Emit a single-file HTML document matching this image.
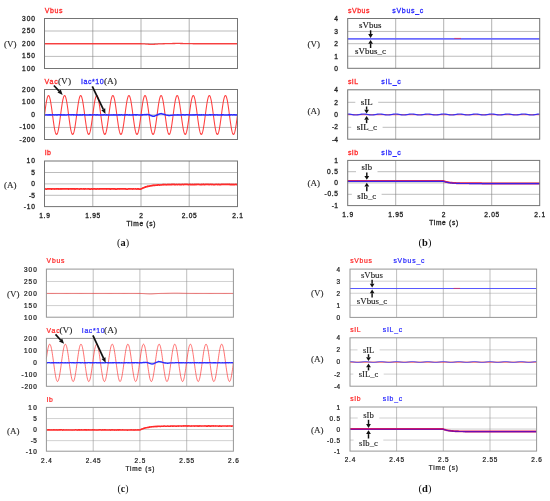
<!DOCTYPE html>
<html><head><meta charset="utf-8"><title>Figure</title>
<style>
html,body{margin:0;padding:0;background:#fff;}
svg{display:block;}
.ss{font-family:'Liberation Sans', Arial, sans-serif;}
.sf{font-family:'Liberation Serif', 'Times New Roman', serif;}
</style></head><body>
<svg width="550" height="501" viewBox="0 0 550 501">
<rect width="550" height="501" fill="#fff"/>
<rect x="44.5" y="18.5" width="193.0" height="50.0" fill="#fff" stroke="none"/>
<line x1="44.5" x2="237.5" y1="31.00" y2="31.00" stroke="#8e8e8e" stroke-width="0.6"/>
<line x1="44.5" x2="237.5" y1="43.50" y2="43.50" stroke="#8e8e8e" stroke-width="0.6"/>
<line x1="44.5" x2="237.5" y1="56.40" y2="56.40" stroke="#8e8e8e" stroke-width="0.6"/>
<line x1="92.8" x2="92.8" y1="18.5" y2="68.5" stroke="#7c7c7c" stroke-width="0.6"/>
<line x1="141.0" x2="141.0" y1="18.5" y2="68.5" stroke="#7c7c7c" stroke-width="0.6"/>
<line x1="189.2" x2="189.2" y1="18.5" y2="68.5" stroke="#7c7c7c" stroke-width="0.6"/>
<path d="M44.50 43.75 L45.46 43.75 L46.43 43.75 L47.39 43.75 L48.36 43.75 L49.32 43.75 L50.29 43.75 L51.25 43.75 L52.22 43.75 L53.18 43.75 L54.15 43.75 L55.11 43.75 L56.08 43.75 L57.04 43.75 L58.01 43.75 L58.97 43.75 L59.94 43.75 L60.90 43.75 L61.87 43.75 L62.83 43.75 L63.80 43.75 L64.76 43.75 L65.73 43.75 L66.69 43.75 L67.66 43.75 L68.62 43.75 L69.59 43.75 L70.55 43.75 L71.52 43.75 L72.48 43.75 L73.45 43.75 L74.41 43.75 L75.38 43.75 L76.34 43.75 L77.31 43.75 L78.27 43.75 L79.24 43.75 L80.20 43.75 L81.17 43.75 L82.13 43.75 L83.10 43.75 L84.06 43.75 L85.03 43.75 L85.99 43.75 L86.96 43.75 L87.92 43.75 L88.89 43.75 L89.85 43.75 L90.82 43.75 L91.78 43.75 L92.75 43.75 L93.71 43.75 L94.68 43.75 L95.64 43.75 L96.61 43.75 L97.57 43.75 L98.54 43.75 L99.50 43.75 L100.47 43.75 L101.43 43.75 L102.40 43.75 L103.36 43.75 L104.33 43.75 L105.29 43.75 L106.26 43.75 L107.22 43.75 L108.19 43.75 L109.15 43.75 L110.12 43.75 L111.08 43.75 L112.05 43.75 L113.01 43.75 L113.98 43.75 L114.94 43.75 L115.91 43.75 L116.87 43.75 L117.84 43.75 L118.80 43.75 L119.77 43.75 L120.73 43.75 L121.70 43.75 L122.66 43.75 L123.63 43.75 L124.59 43.75 L125.56 43.75 L126.52 43.75 L127.49 43.75 L128.45 43.75 L129.42 43.75 L130.38 43.75 L131.35 43.75 L132.31 43.75 L133.28 43.75 L134.24 43.75 L135.21 43.75 L136.17 43.75 L137.14 43.75 L138.10 43.75 L139.07 43.75 L140.03 43.75 L141.00 43.75 L141.96 43.83 L142.93 43.86 L143.90 43.91 L144.86 43.97 L145.82 44.04 L146.79 44.11 L147.76 44.18 L148.72 44.25 L149.69 44.30 L150.65 44.34 L151.62 44.35 L152.58 44.34 L153.54 44.30 L154.51 44.25 L155.48 44.18 L156.44 44.11 L157.40 44.03 L158.37 43.97 L159.34 43.90 L160.30 43.85 L161.26 43.81 L162.23 43.78 L163.20 43.75 L164.16 43.73 L165.12 43.71 L166.09 43.69 L167.06 43.66 L168.02 43.64 L168.99 43.62 L169.95 43.59 L170.91 43.57 L171.88 43.54 L172.84 43.52 L173.81 43.49 L174.78 43.48 L175.74 43.46 L176.71 43.45 L177.67 43.45 L178.63 43.45 L179.60 43.46 L180.57 43.48 L181.53 43.49 L182.50 43.52 L183.46 43.54 L184.43 43.57 L185.39 43.59 L186.35 43.62 L187.32 43.64 L188.29 43.66 L189.25 43.68 L190.22 43.69 L191.18 43.71 L192.15 43.72 L193.11 43.73 L194.07 43.73 L195.04 43.74 L196.01 43.74 L196.97 43.74 L197.93 43.75 L198.90 43.75 L199.87 43.75 L200.83 43.75 L201.79 43.75 L202.76 43.75 L203.73 43.75 L204.69 43.75 L205.65 43.75 L206.62 43.75 L207.59 43.75 L208.55 43.75 L209.51 43.75 L210.48 43.75 L211.45 43.75 L212.41 43.75 L213.37 43.75 L214.34 43.75 L215.31 43.75 L216.27 43.75 L217.23 43.75 L218.20 43.75 L219.17 43.75 L220.13 43.75 L221.09 43.75 L222.06 43.75 L223.03 43.75 L223.99 43.75 L224.95 43.75 L225.92 43.75 L226.89 43.75 L227.85 43.75 L228.81 43.75 L229.78 43.75 L230.75 43.75 L231.71 43.75 L232.67 43.75 L233.64 43.75 L234.61 43.75 L235.57 43.75 L236.53 43.75 L237.50 43.75" fill="none" stroke="#ff2a2a" stroke-width="1.3" stroke-opacity="0.85" stroke-linejoin="round"/>
<rect x="44.5" y="18.5" width="193.0" height="50.0" fill="none" stroke="#747474" stroke-width="1"/>
<text class="ss" x="34.9" y="20.9" font-size="6.6" fill="#222" text-anchor="end" textLength="12.8" lengthAdjust="spacing" stroke="#222" stroke-width="0.3">300</text>
<text class="ss" x="34.9" y="33.4" font-size="6.6" fill="#222" text-anchor="end" textLength="12.8" lengthAdjust="spacing" stroke="#222" stroke-width="0.3">250</text>
<text class="ss" x="34.9" y="45.9" font-size="6.6" fill="#222" text-anchor="end" textLength="12.8" lengthAdjust="spacing" stroke="#222" stroke-width="0.3">200</text>
<text class="ss" x="34.9" y="58.4" font-size="6.6" fill="#222" text-anchor="end" textLength="12.8" lengthAdjust="spacing" stroke="#222" stroke-width="0.3">150</text>
<text class="ss" x="34.9" y="70.9" font-size="6.6" fill="#222" text-anchor="end" textLength="12.8" lengthAdjust="spacing" stroke="#222" stroke-width="0.3">100</text>
<text class="ss" x="44.7" y="12.6" font-size="7.0" fill="#ff2a2a" textLength="17.8" lengthAdjust="spacing" stroke="#ff2a2a" stroke-width="0.3">Vbus</text>
<text class="sf" x="3.9" y="46.6" font-size="9.0" fill="#222" textLength="12.5" lengthAdjust="spacingAndGlyphs" stroke="#222" stroke-width="0.12">(V)</text>
<rect x="44.5" y="89.5" width="193.0" height="50.0" fill="#fff" stroke="none"/>
<line x1="44.5" x2="237.5" y1="102.45" y2="102.45" stroke="#8e8e8e" stroke-width="0.6"/>
<line x1="44.5" x2="237.5" y1="114.90" y2="114.90" stroke="#8e8e8e" stroke-width="0.6"/>
<line x1="44.5" x2="237.5" y1="127.45" y2="127.45" stroke="#8e8e8e" stroke-width="0.6"/>
<line x1="92.8" x2="92.8" y1="89.5" y2="139.5" stroke="#7c7c7c" stroke-width="0.6"/>
<line x1="141.0" x2="141.0" y1="89.5" y2="139.5" stroke="#7c7c7c" stroke-width="0.6"/>
<line x1="189.2" x2="189.2" y1="89.5" y2="139.5" stroke="#7c7c7c" stroke-width="0.6"/>
<path d="M44.50 115.00 L44.82 112.56 L45.14 110.15 L45.46 107.82 L45.79 105.61 L46.11 103.54 L46.43 101.65 L46.75 99.97 L47.07 98.54 L47.39 97.36 L47.72 96.45 L48.04 95.85 L48.36 95.54 L48.68 95.54 L49.00 95.85 L49.32 96.45 L49.65 97.36 L49.97 98.54 L50.29 99.97 L50.61 101.65 L50.93 103.54 L51.25 105.61 L51.58 107.82 L51.90 110.15 L52.22 112.56 L52.54 115.00 L52.86 117.44 L53.18 119.85 L53.51 122.18 L53.83 124.39 L54.15 126.46 L54.47 128.35 L54.79 130.03 L55.11 131.46 L55.44 132.64 L55.76 133.55 L56.08 134.15 L56.40 134.46 L56.72 134.46 L57.04 134.15 L57.37 133.55 L57.69 132.64 L58.01 131.46 L58.33 130.03 L58.65 128.35 L58.97 126.46 L59.30 124.39 L59.62 122.18 L59.94 119.85 L60.26 117.44 L60.58 115.00 L60.90 112.56 L61.23 110.15 L61.55 107.82 L61.87 105.61 L62.19 103.54 L62.51 101.65 L62.83 99.97 L63.16 98.54 L63.48 97.36 L63.80 96.45 L64.12 95.85 L64.44 95.54 L64.76 95.54 L65.09 95.85 L65.41 96.45 L65.73 97.36 L66.05 98.54 L66.37 99.97 L66.69 101.65 L67.02 103.54 L67.34 105.61 L67.66 107.82 L67.98 110.15 L68.30 112.56 L68.62 115.00 L68.95 117.44 L69.27 119.85 L69.59 122.18 L69.91 124.39 L70.23 126.46 L70.55 128.35 L70.88 130.03 L71.20 131.46 L71.52 132.64 L71.84 133.55 L72.16 134.15 L72.48 134.46 L72.81 134.46 L73.13 134.15 L73.45 133.55 L73.77 132.64 L74.09 131.46 L74.41 130.03 L74.74 128.35 L75.06 126.46 L75.38 124.39 L75.70 122.18 L76.02 119.85 L76.34 117.44 L76.67 115.00 L76.99 112.56 L77.31 110.15 L77.63 107.82 L77.95 105.61 L78.27 103.54 L78.60 101.65 L78.92 99.97 L79.24 98.54 L79.56 97.36 L79.88 96.45 L80.20 95.85 L80.53 95.54 L80.85 95.54 L81.17 95.85 L81.49 96.45 L81.81 97.36 L82.13 98.54 L82.46 99.97 L82.78 101.65 L83.10 103.54 L83.42 105.61 L83.74 107.82 L84.06 110.15 L84.39 112.56 L84.71 115.00 L85.03 117.44 L85.35 119.85 L85.67 122.18 L85.99 124.39 L86.32 126.46 L86.64 128.35 L86.96 130.03 L87.28 131.46 L87.60 132.64 L87.92 133.55 L88.25 134.15 L88.57 134.46 L88.89 134.46 L89.21 134.15 L89.53 133.55 L89.85 132.64 L90.18 131.46 L90.50 130.03 L90.82 128.35 L91.14 126.46 L91.46 124.39 L91.78 122.18 L92.11 119.85 L92.43 117.44 L92.75 115.00 L93.07 112.56 L93.39 110.15 L93.71 107.82 L94.04 105.61 L94.36 103.54 L94.68 101.65 L95.00 99.97 L95.32 98.54 L95.64 97.36 L95.97 96.45 L96.29 95.85 L96.61 95.54 L96.93 95.54 L97.25 95.85 L97.57 96.45 L97.90 97.36 L98.22 98.54 L98.54 99.97 L98.86 101.65 L99.18 103.54 L99.50 105.61 L99.83 107.82 L100.15 110.15 L100.47 112.56 L100.79 115.00 L101.11 117.44 L101.43 119.85 L101.76 122.18 L102.08 124.39 L102.40 126.46 L102.72 128.35 L103.04 130.03 L103.36 131.46 L103.69 132.64 L104.01 133.55 L104.33 134.15 L104.65 134.46 L104.97 134.46 L105.29 134.15 L105.62 133.55 L105.94 132.64 L106.26 131.46 L106.58 130.03 L106.90 128.35 L107.22 126.46 L107.55 124.39 L107.87 122.18 L108.19 119.85 L108.51 117.44 L108.83 115.00 L109.15 112.56 L109.48 110.15 L109.80 107.82 L110.12 105.61 L110.44 103.54 L110.76 101.65 L111.08 99.97 L111.41 98.54 L111.73 97.36 L112.05 96.45 L112.37 95.85 L112.69 95.54 L113.01 95.54 L113.34 95.85 L113.66 96.45 L113.98 97.36 L114.30 98.54 L114.62 99.97 L114.94 101.65 L115.27 103.54 L115.59 105.61 L115.91 107.82 L116.23 110.15 L116.55 112.56 L116.87 115.00 L117.20 117.44 L117.52 119.85 L117.84 122.18 L118.16 124.39 L118.48 126.46 L118.80 128.35 L119.13 130.03 L119.45 131.46 L119.77 132.64 L120.09 133.55 L120.41 134.15 L120.73 134.46 L121.06 134.46 L121.38 134.15 L121.70 133.55 L122.02 132.64 L122.34 131.46 L122.66 130.03 L122.99 128.35 L123.31 126.46 L123.63 124.39 L123.95 122.18 L124.27 119.85 L124.59 117.44 L124.92 115.00 L125.24 112.56 L125.56 110.15 L125.88 107.82 L126.20 105.61 L126.52 103.54 L126.85 101.65 L127.17 99.97 L127.49 98.54 L127.81 97.36 L128.13 96.45 L128.45 95.85 L128.78 95.54 L129.10 95.54 L129.42 95.85 L129.74 96.45 L130.06 97.36 L130.38 98.54 L130.71 99.97 L131.03 101.65 L131.35 103.54 L131.67 105.61 L131.99 107.82 L132.31 110.15 L132.64 112.56 L132.96 115.00 L133.28 117.44 L133.60 119.85 L133.92 122.18 L134.24 124.39 L134.57 126.46 L134.89 128.35 L135.21 130.03 L135.53 131.46 L135.85 132.64 L136.17 133.55 L136.50 134.15 L136.82 134.46 L137.14 134.46 L137.46 134.15 L137.78 133.55 L138.10 132.64 L138.43 131.46 L138.75 130.03 L139.07 128.35 L139.39 126.46 L139.71 124.39 L140.03 122.18 L140.36 119.85 L140.68 117.44 L141.00 115.00 L141.32 112.56 L141.64 110.15 L141.96 107.82 L142.29 105.61 L142.61 103.54 L142.93 101.65 L143.25 99.97 L143.57 98.54 L143.90 97.36 L144.22 96.45 L144.54 95.85 L144.86 95.54 L145.18 95.54 L145.50 95.85 L145.82 96.45 L146.15 97.36 L146.47 98.54 L146.79 99.97 L147.11 101.65 L147.43 103.54 L147.76 105.61 L148.08 107.82 L148.40 110.15 L148.72 112.56 L149.04 115.00 L149.36 117.44 L149.69 119.85 L150.01 122.18 L150.33 124.39 L150.65 126.46 L150.97 128.35 L151.29 130.03 L151.62 131.46 L151.94 132.64 L152.26 133.55 L152.58 134.15 L152.90 134.46 L153.22 134.46 L153.54 134.15 L153.87 133.55 L154.19 132.64 L154.51 131.46 L154.83 130.03 L155.15 128.35 L155.48 126.46 L155.80 124.39 L156.12 122.18 L156.44 119.85 L156.76 117.44 L157.08 115.00 L157.40 112.56 L157.73 110.15 L158.05 107.82 L158.37 105.61 L158.69 103.54 L159.01 101.65 L159.34 99.97 L159.66 98.54 L159.98 97.36 L160.30 96.45 L160.62 95.85 L160.94 95.54 L161.26 95.54 L161.59 95.85 L161.91 96.45 L162.23 97.36 L162.55 98.54 L162.87 99.97 L163.19 101.65 L163.52 103.54 L163.84 105.61 L164.16 107.82 L164.48 110.15 L164.80 112.56 L165.12 115.00 L165.45 117.44 L165.77 119.85 L166.09 122.18 L166.41 124.39 L166.73 126.46 L167.06 128.35 L167.38 130.03 L167.70 131.46 L168.02 132.64 L168.34 133.55 L168.66 134.15 L168.99 134.46 L169.31 134.46 L169.63 134.15 L169.95 133.55 L170.27 132.64 L170.59 131.46 L170.91 130.03 L171.24 128.35 L171.56 126.46 L171.88 124.39 L172.20 122.18 L172.52 119.85 L172.84 117.44 L173.17 115.00 L173.49 112.56 L173.81 110.15 L174.13 107.82 L174.45 105.61 L174.78 103.54 L175.10 101.65 L175.42 99.97 L175.74 98.54 L176.06 97.36 L176.38 96.45 L176.71 95.85 L177.03 95.54 L177.35 95.54 L177.67 95.85 L177.99 96.45 L178.31 97.36 L178.63 98.54 L178.96 99.97 L179.28 101.65 L179.60 103.54 L179.92 105.61 L180.24 107.82 L180.57 110.15 L180.89 112.56 L181.21 115.00 L181.53 117.44 L181.85 119.85 L182.17 122.18 L182.50 124.39 L182.82 126.46 L183.14 128.35 L183.46 130.03 L183.78 131.46 L184.10 132.64 L184.43 133.55 L184.75 134.15 L185.07 134.46 L185.39 134.46 L185.71 134.15 L186.03 133.55 L186.35 132.64 L186.68 131.46 L187.00 130.03 L187.32 128.35 L187.64 126.46 L187.96 124.39 L188.29 122.18 L188.61 119.85 L188.93 117.44 L189.25 115.00 L189.57 112.56 L189.89 110.15 L190.22 107.82 L190.54 105.61 L190.86 103.54 L191.18 101.65 L191.50 99.97 L191.82 98.54 L192.15 97.36 L192.47 96.45 L192.79 95.85 L193.11 95.54 L193.43 95.54 L193.75 95.85 L194.07 96.45 L194.40 97.36 L194.72 98.54 L195.04 99.97 L195.36 101.65 L195.68 103.54 L196.01 105.61 L196.33 107.82 L196.65 110.15 L196.97 112.56 L197.29 115.00 L197.61 117.44 L197.93 119.85 L198.26 122.18 L198.58 124.39 L198.90 126.46 L199.22 128.35 L199.54 130.03 L199.87 131.46 L200.19 132.64 L200.51 133.55 L200.83 134.15 L201.15 134.46 L201.47 134.46 L201.79 134.15 L202.12 133.55 L202.44 132.64 L202.76 131.46 L203.08 130.03 L203.40 128.35 L203.73 126.46 L204.05 124.39 L204.37 122.18 L204.69 119.85 L205.01 117.44 L205.33 115.00 L205.65 112.56 L205.98 110.15 L206.30 107.82 L206.62 105.61 L206.94 103.54 L207.26 101.65 L207.59 99.97 L207.91 98.54 L208.23 97.36 L208.55 96.45 L208.87 95.85 L209.19 95.54 L209.51 95.54 L209.84 95.85 L210.16 96.45 L210.48 97.36 L210.80 98.54 L211.12 99.97 L211.45 101.65 L211.77 103.54 L212.09 105.61 L212.41 107.82 L212.73 110.15 L213.05 112.56 L213.37 115.00 L213.70 117.44 L214.02 119.85 L214.34 122.18 L214.66 124.39 L214.98 126.46 L215.31 128.35 L215.63 130.03 L215.95 131.46 L216.27 132.64 L216.59 133.55 L216.91 134.15 L217.23 134.46 L217.56 134.46 L217.88 134.15 L218.20 133.55 L218.52 132.64 L218.84 131.46 L219.17 130.03 L219.49 128.35 L219.81 126.46 L220.13 124.39 L220.45 122.18 L220.77 119.85 L221.09 117.44 L221.42 115.00 L221.74 112.56 L222.06 110.15 L222.38 107.82 L222.70 105.61 L223.03 103.54 L223.35 101.65 L223.67 99.97 L223.99 98.54 L224.31 97.36 L224.63 96.45 L224.95 95.85 L225.28 95.54 L225.60 95.54 L225.92 95.85 L226.24 96.45 L226.56 97.36 L226.89 98.54 L227.21 99.97 L227.53 101.65 L227.85 103.54 L228.17 105.61 L228.49 107.82 L228.81 110.15 L229.14 112.56 L229.46 115.00 L229.78 117.44 L230.10 119.85 L230.42 122.18 L230.75 124.39 L231.07 126.46 L231.39 128.35 L231.71 130.03 L232.03 131.46 L232.35 132.64 L232.67 133.55 L233.00 134.15 L233.32 134.46 L233.64 134.46 L233.96 134.15 L234.28 133.55 L234.61 132.64 L234.93 131.46 L235.25 130.03 L235.57 128.35 L235.89 126.46 L236.21 124.39 L236.53 122.18 L236.86 119.85 L237.18 117.44 L237.50 115.00" fill="none" stroke="#ff2a2a" stroke-width="1.05" stroke-opacity="0.9" stroke-linejoin="round"/>
<path d="M44.50 114.98 L44.98 114.89 L45.46 114.94 L45.95 114.87 L46.43 114.86 L46.91 115.03 L47.39 115.05 L47.88 114.80 L48.36 114.97 L48.84 114.98 L49.32 114.75 L49.81 114.91 L50.29 114.80 L50.77 114.91 L51.25 114.86 L51.74 115.00 L52.22 114.86 L52.70 114.79 L53.18 114.89 L53.67 114.83 L54.15 114.85 L54.63 115.03 L55.11 114.82 L55.60 114.87 L56.08 114.96 L56.56 115.04 L57.04 114.79 L57.53 114.91 L58.01 114.83 L58.49 114.79 L58.97 114.84 L59.46 114.77 L59.94 114.93 L60.42 114.81 L60.90 114.92 L61.39 114.77 L61.87 114.79 L62.35 115.02 L62.83 115.01 L63.32 114.98 L63.80 114.76 L64.28 114.92 L64.76 114.86 L65.25 114.96 L65.73 114.90 L66.21 114.93 L66.69 114.94 L67.18 114.87 L67.66 114.87 L68.14 114.78 L68.62 114.85 L69.11 114.77 L69.59 114.79 L70.07 114.75 L70.55 114.85 L71.04 115.00 L71.52 114.79 L72.00 114.76 L72.48 114.78 L72.97 114.88 L73.45 114.84 L73.93 114.99 L74.41 114.80 L74.90 114.88 L75.38 114.96 L75.86 115.03 L76.34 114.79 L76.83 114.75 L77.31 115.02 L77.79 114.81 L78.27 114.93 L78.76 115.00 L79.24 114.96 L79.72 114.82 L80.20 114.79 L80.69 115.04 L81.17 114.87 L81.65 115.04 L82.13 114.83 L82.62 114.95 L83.10 114.79 L83.58 114.76 L84.06 114.90 L84.55 114.75 L85.03 114.96 L85.51 115.03 L85.99 114.87 L86.48 115.04 L86.96 114.99 L87.44 114.93 L87.92 114.87 L88.41 115.00 L88.89 115.04 L89.37 114.79 L89.85 114.96 L90.34 114.76 L90.82 114.78 L91.30 114.94 L91.78 114.91 L92.27 114.89 L92.75 114.86 L93.23 114.87 L93.71 114.88 L94.20 114.86 L94.68 114.77 L95.16 114.90 L95.64 114.92 L96.13 114.83 L96.61 114.98 L97.09 114.96 L97.57 114.76 L98.06 114.89 L98.54 114.89 L99.02 115.05 L99.50 114.93 L99.99 114.88 L100.47 115.04 L100.95 114.87 L101.43 114.86 L101.92 115.03 L102.40 114.86 L102.88 114.91 L103.36 114.85 L103.85 114.94 L104.33 114.84 L104.81 114.83 L105.29 115.04 L105.78 115.03 L106.26 114.85 L106.74 114.76 L107.22 114.97 L107.71 114.91 L108.19 114.87 L108.67 114.95 L109.15 114.94 L109.64 114.96 L110.12 114.94 L110.60 114.87 L111.08 114.96 L111.57 114.94 L112.05 114.82 L112.53 115.04 L113.01 114.88 L113.50 114.83 L113.98 114.96 L114.46 114.98 L114.94 114.81 L115.43 114.98 L115.91 114.99 L116.39 114.92 L116.87 114.84 L117.36 115.02 L117.84 114.95 L118.32 114.95 L118.80 114.80 L119.29 114.92 L119.77 114.79 L120.25 115.00 L120.73 114.95 L121.22 114.85 L121.70 114.78 L122.18 114.91 L122.66 114.98 L123.15 115.01 L123.63 114.89 L124.11 114.99 L124.59 114.81 L125.08 114.80 L125.56 114.99 L126.04 114.97 L126.52 114.81 L127.01 114.86 L127.49 114.81 L127.97 114.95 L128.45 115.01 L128.94 114.96 L129.42 114.81 L129.90 114.97 L130.38 114.95 L130.87 114.92 L131.35 114.92 L131.83 114.93 L132.31 114.77 L132.80 115.00 L133.28 115.05 L133.76 114.77 L134.24 114.79 L134.73 114.75 L135.21 114.92 L135.69 114.76 L136.17 114.77 L136.66 114.98 L137.14 114.83 L137.62 114.80 L138.10 114.85 L138.59 114.89 L139.07 114.96 L139.55 114.95 L140.03 114.98 L140.52 115.03 L141.00 114.87 L141.48 114.96 L141.96 114.79 L142.45 115.01 L142.93 114.74 L143.41 114.78 L143.90 114.68 L144.38 114.64 L144.86 114.59 L145.34 114.64 L145.82 114.76 L146.31 114.50 L146.79 114.65 L147.27 114.61 L147.76 114.53 L148.24 114.64 L148.72 114.77 L149.20 114.74 L149.69 114.99 L150.17 115.25 L150.65 115.48 L151.13 115.51 L151.62 115.83 L152.10 115.93 L152.58 116.20 L153.06 116.33 L153.54 116.25 L154.03 116.12 L154.51 116.20 L154.99 115.84 L155.48 115.60 L155.96 115.41 L156.44 115.17 L156.92 115.18 L157.40 114.77 L157.89 114.48 L158.37 114.51 L158.85 114.24 L159.34 114.06 L159.82 113.83 L160.30 113.75 L160.78 113.67 L161.26 113.58 L161.75 113.86 L162.23 113.94 L162.71 114.05 L163.20 114.21 L163.68 114.39 L164.16 114.28 L164.64 114.48 L165.12 114.85 L165.61 114.85 L166.09 115.02 L166.57 115.12 L167.06 115.20 L167.54 115.19 L168.02 115.28 L168.50 115.40 L168.99 115.48 L169.47 115.45 L169.95 115.50 L170.43 115.34 L170.91 115.25 L171.40 115.30 L171.88 115.33 L172.36 115.24 L172.84 115.12 L173.33 115.00 L173.81 114.91 L174.29 115.00 L174.78 114.85 L175.26 114.89 L175.74 114.94 L176.22 114.95 L176.71 114.91 L177.19 114.84 L177.67 114.93 L178.15 114.84 L178.63 114.91 L179.12 114.98 L179.60 114.89 L180.08 114.84 L180.57 115.03 L181.05 114.92 L181.53 114.92 L182.01 114.79 L182.50 114.77 L182.98 114.94 L183.46 114.78 L183.94 114.81 L184.43 114.97 L184.91 114.91 L185.39 115.01 L185.87 114.81 L186.35 114.85 L186.84 114.78 L187.32 114.81 L187.80 114.85 L188.29 114.83 L188.77 114.88 L189.25 115.02 L189.73 114.87 L190.22 115.05 L190.70 115.01 L191.18 114.82 L191.66 115.04 L192.15 115.02 L192.63 115.02 L193.11 114.79 L193.59 115.00 L194.07 115.04 L194.56 114.80 L195.04 115.01 L195.52 114.80 L196.01 114.85 L196.49 114.80 L196.97 114.76 L197.45 114.88 L197.93 114.81 L198.42 115.04 L198.90 114.82 L199.38 114.90 L199.87 114.84 L200.35 115.02 L200.83 114.83 L201.31 114.77 L201.79 115.03 L202.28 114.95 L202.76 114.88 L203.24 114.80 L203.73 114.98 L204.21 115.00 L204.69 114.98 L205.17 114.87 L205.65 114.82 L206.14 114.93 L206.62 114.94 L207.10 114.93 L207.59 114.94 L208.07 114.92 L208.55 115.03 L209.03 114.90 L209.51 114.76 L210.00 114.93 L210.48 114.83 L210.96 115.00 L211.45 114.84 L211.93 114.82 L212.41 114.85 L212.89 114.89 L213.37 114.90 L213.86 114.86 L214.34 114.78 L214.82 115.01 L215.31 115.02 L215.79 114.83 L216.27 114.78 L216.75 114.89 L217.23 114.92 L217.72 114.83 L218.20 114.99 L218.68 114.97 L219.17 114.99 L219.65 114.87 L220.13 114.96 L220.61 114.98 L221.09 114.84 L221.58 114.76 L222.06 114.96 L222.54 114.84 L223.03 114.93 L223.51 114.79 L223.99 114.87 L224.47 114.97 L224.95 114.98 L225.44 115.04 L225.92 114.91 L226.40 114.94 L226.89 115.00 L227.37 114.94 L227.85 114.95 L228.33 114.82 L228.81 115.01 L229.30 114.75 L229.78 114.91 L230.26 114.87 L230.75 114.91 L231.23 114.80 L231.71 114.80 L232.19 114.88 L232.67 114.91 L233.16 114.83 L233.64 114.79 L234.12 114.93 L234.61 114.83 L235.09 114.76 L235.57 114.91 L236.05 114.98 L236.53 114.98 L237.02 114.83 L237.50 114.85" fill="none" stroke="#2b2bff" stroke-width="1.5" stroke-linejoin="round"/>
<rect x="44.5" y="89.5" width="193.0" height="50.0" fill="none" stroke="#747474" stroke-width="1"/>
<text class="ss" x="34.9" y="91.9" font-size="6.6" fill="#222" text-anchor="end" textLength="12.8" lengthAdjust="spacing" stroke="#222" stroke-width="0.3">200</text>
<text class="ss" x="34.9" y="104.4" font-size="6.6" fill="#222" text-anchor="end" textLength="12.8" lengthAdjust="spacing" stroke="#222" stroke-width="0.3">100</text>
<text class="ss" x="34.9" y="116.9" font-size="6.6" fill="#222" text-anchor="end" textLength="4.2" lengthAdjust="spacing" stroke="#222" stroke-width="0.3">0</text>
<text class="ss" x="34.9" y="129.4" font-size="6.6" fill="#222" text-anchor="end" textLength="15.3" lengthAdjust="spacing" stroke="#222" stroke-width="0.3">-100</text>
<text class="ss" x="34.9" y="141.9" font-size="6.6" fill="#222" text-anchor="end" textLength="15.3" lengthAdjust="spacing" stroke="#222" stroke-width="0.3">-200</text>
<text class="ss" x="44.5" y="83.8" font-size="7.0" fill="#ff2a2a" textLength="13.3" lengthAdjust="spacing" stroke="#ff2a2a" stroke-width="0.3">Vac</text>
<text class="sf" x="58.0" y="84.3" font-size="9.0" fill="#222" textLength="13" lengthAdjust="spacingAndGlyphs" stroke="#222" stroke-width="0.12">(V)</text>
<text class="ss" x="80.9" y="83.8" font-size="7.0" fill="#2b2bff" textLength="22.8" lengthAdjust="spacing" stroke="#2b2bff" stroke-width="0.3">Iac*10</text>
<text class="sf" x="103.9" y="84.3" font-size="9.0" fill="#222" textLength="13" lengthAdjust="spacingAndGlyphs" stroke="#222" stroke-width="0.12">(A)</text>
<line x1="53.9" y1="85.5" x2="59.1" y2="91.1" stroke="#111" stroke-width="1.7"/>
<polygon points="62.7,94.9 57.5,92.6 60.8,89.6" fill="#111"/>
<line x1="92.3" y1="86.4" x2="103.2" y2="109.2" stroke="#111" stroke-width="1.7"/>
<polygon points="105.5,113.9 101.3,110.2 105.2,108.3" fill="#111"/>
<rect x="44.5" y="161.0" width="193.0" height="45.6" fill="#fff" stroke="none"/>
<line x1="44.5" x2="237.5" y1="172.50" y2="172.50" stroke="#8e8e8e" stroke-width="0.6"/>
<line x1="44.5" x2="237.5" y1="183.90" y2="183.90" stroke="#8e8e8e" stroke-width="0.6"/>
<line x1="44.5" x2="237.5" y1="195.30" y2="195.30" stroke="#8e8e8e" stroke-width="0.6"/>
<line x1="92.8" x2="92.8" y1="161.0" y2="206.6" stroke="#7c7c7c" stroke-width="0.6"/>
<line x1="141.0" x2="141.0" y1="161.0" y2="206.6" stroke="#7c7c7c" stroke-width="0.6"/>
<line x1="189.2" x2="189.2" y1="161.0" y2="206.6" stroke="#7c7c7c" stroke-width="0.6"/>
<path d="M44.50 188.76 L44.98 188.80 L45.46 189.02 L45.95 189.04 L46.43 189.02 L46.91 189.04 L47.39 188.86 L47.88 188.80 L48.36 188.78 L48.84 189.02 L49.32 188.80 L49.81 189.00 L50.29 188.96 L50.77 188.85 L51.25 189.08 L51.74 189.08 L52.22 188.81 L52.70 189.01 L53.18 188.98 L53.67 188.90 L54.15 188.87 L54.63 189.11 L55.11 188.99 L55.60 188.95 L56.08 188.94 L56.56 189.04 L57.04 188.90 L57.53 188.76 L58.01 188.97 L58.49 188.91 L58.97 189.07 L59.46 189.01 L59.94 188.87 L60.42 189.07 L60.90 188.79 L61.39 188.78 L61.87 189.08 L62.35 188.77 L62.83 188.98 L63.32 188.83 L63.80 188.84 L64.28 189.00 L64.76 188.87 L65.25 188.87 L65.73 188.82 L66.21 189.02 L66.69 188.84 L67.18 188.76 L67.66 188.87 L68.14 188.92 L68.62 189.07 L69.11 188.93 L69.59 188.98 L70.07 188.85 L70.55 188.86 L71.04 188.91 L71.52 189.05 L72.00 188.88 L72.48 188.88 L72.97 189.05 L73.45 188.79 L73.93 188.87 L74.41 189.07 L74.90 188.77 L75.38 189.06 L75.86 188.99 L76.34 188.85 L76.83 188.89 L77.31 188.91 L77.79 188.88 L78.27 188.95 L78.76 189.00 L79.24 189.05 L79.72 189.09 L80.20 188.85 L80.69 188.84 L81.17 188.91 L81.65 188.84 L82.13 188.98 L82.62 189.02 L83.10 188.97 L83.58 188.79 L84.06 189.10 L84.55 188.93 L85.03 189.02 L85.51 188.83 L85.99 188.98 L86.48 188.99 L86.96 188.97 L87.44 188.91 L87.92 188.83 L88.41 188.98 L88.89 188.80 L89.37 189.07 L89.85 189.01 L90.34 189.08 L90.82 189.07 L91.30 188.83 L91.78 188.85 L92.27 189.04 L92.75 189.04 L93.23 188.96 L93.71 188.84 L94.20 188.81 L94.68 188.84 L95.16 188.90 L95.64 189.06 L96.13 188.97 L96.61 189.04 L97.09 188.92 L97.57 188.91 L98.06 189.04 L98.54 189.02 L99.02 188.83 L99.50 189.10 L99.99 188.82 L100.47 188.79 L100.95 188.77 L101.43 188.97 L101.92 188.91 L102.40 188.90 L102.88 188.88 L103.36 188.76 L103.85 188.86 L104.33 189.00 L104.81 188.80 L105.29 188.94 L105.78 188.89 L106.26 188.85 L106.74 189.11 L107.22 188.83 L107.71 188.87 L108.19 188.93 L108.67 188.92 L109.15 188.94 L109.64 189.04 L110.12 188.92 L110.60 189.10 L111.08 188.93 L111.57 188.88 L112.05 188.95 L112.53 188.91 L113.01 188.76 L113.50 188.79 L113.98 189.06 L114.46 188.82 L114.94 188.89 L115.43 189.09 L115.91 188.98 L116.39 189.03 L116.87 189.08 L117.36 188.92 L117.84 188.77 L118.32 188.99 L118.80 188.79 L119.29 188.86 L119.77 189.06 L120.25 188.80 L120.73 188.89 L121.22 188.77 L121.70 188.85 L122.18 188.84 L122.66 188.99 L123.15 188.82 L123.63 188.77 L124.11 188.80 L124.59 188.95 L125.08 188.84 L125.56 188.94 L126.04 189.07 L126.52 189.10 L127.01 189.08 L127.49 189.04 L127.97 189.05 L128.45 188.93 L128.94 188.86 L129.42 188.92 L129.90 188.96 L130.38 188.88 L130.87 189.00 L131.35 188.94 L131.83 188.84 L132.31 188.97 L132.80 189.05 L133.28 188.78 L133.76 188.85 L134.24 188.98 L134.73 188.98 L135.21 188.92 L135.69 188.89 L136.17 189.03 L136.66 189.11 L137.14 189.04 L137.62 188.83 L138.10 189.06 L138.59 188.94 L139.07 189.04 L139.55 189.04 L140.03 189.05 L140.52 188.97 L141.00 189.05 L141.48 188.83 L141.96 188.55 L142.45 188.29 L142.93 187.95 L143.41 187.90 L143.90 187.71 L144.38 187.37 L144.86 187.21 L145.34 186.94 L145.82 187.03 L146.31 186.75 L146.79 186.62 L147.27 186.63 L147.76 186.17 L148.24 186.33 L148.72 186.27 L149.20 186.03 L149.69 186.05 L150.17 185.80 L150.65 185.81 L151.13 185.82 L151.62 185.77 L152.10 185.46 L152.58 185.56 L153.06 185.31 L153.54 185.37 L154.03 185.15 L154.51 185.33 L154.99 185.30 L155.48 185.25 L155.96 185.01 L156.44 185.04 L156.92 185.11 L157.40 185.16 L157.89 184.92 L158.37 184.78 L158.85 184.89 L159.34 185.08 L159.82 185.04 L160.30 185.00 L160.78 184.95 L161.26 184.98 L161.75 184.95 L162.23 184.71 L162.71 184.60 L163.20 184.84 L163.68 184.55 L164.16 184.71 L164.64 184.58 L165.12 184.53 L165.61 184.51 L166.09 184.83 L166.57 184.72 L167.06 184.60 L167.54 184.46 L168.02 184.77 L168.50 184.69 L168.99 184.47 L169.47 184.74 L169.95 184.63 L170.43 184.64 L170.91 184.51 L171.40 184.41 L171.88 184.68 L172.36 184.47 L172.84 184.47 L173.33 184.43 L173.81 184.53 L174.29 184.39 L174.78 184.59 L175.26 184.57 L175.74 184.63 L176.22 184.43 L176.71 184.53 L177.19 184.61 L177.67 184.64 L178.15 184.44 L178.63 184.48 L179.12 184.44 L179.60 184.56 L180.08 184.52 L180.57 184.64 L181.05 184.43 L181.53 184.68 L182.01 184.52 L182.50 184.41 L182.98 184.44 L183.46 184.65 L183.94 184.60 L184.43 184.37 L184.91 184.45 L185.39 184.36 L185.87 184.36 L186.35 184.51 L186.84 184.35 L187.32 184.41 L187.80 184.56 L188.29 184.54 L188.77 184.65 L189.25 184.53 L189.73 184.33 L190.22 184.64 L190.70 184.47 L191.18 184.63 L191.66 184.64 L192.15 184.44 L192.63 184.58 L193.11 184.65 L193.59 184.62 L194.07 184.44 L194.56 184.46 L195.04 184.67 L195.52 184.59 L196.01 184.32 L196.49 184.59 L196.97 184.46 L197.45 184.52 L197.93 184.38 L198.42 184.45 L198.90 184.38 L199.38 184.47 L199.87 184.60 L200.35 184.60 L200.83 184.64 L201.31 184.37 L201.79 184.63 L202.28 184.66 L202.76 184.32 L203.24 184.60 L203.73 184.34 L204.21 184.64 L204.69 184.50 L205.17 184.59 L205.65 184.36 L206.14 184.44 L206.62 184.43 L207.10 184.39 L207.59 184.35 L208.07 184.54 L208.55 184.45 L209.03 184.50 L209.51 184.63 L210.00 184.36 L210.48 184.45 L210.96 184.37 L211.45 184.59 L211.93 184.47 L212.41 184.50 L212.89 184.40 L213.37 184.64 L213.86 184.54 L214.34 184.49 L214.82 184.64 L215.31 184.47 L215.79 184.40 L216.27 184.51 L216.75 184.43 L217.23 184.45 L217.72 184.59 L218.20 184.54 L218.68 184.30 L219.17 184.54 L219.65 184.51 L220.13 184.64 L220.61 184.59 L221.09 184.61 L221.58 184.33 L222.06 184.40 L222.54 184.35 L223.03 184.31 L223.51 184.44 L223.99 184.33 L224.47 184.47 L224.95 184.51 L225.44 184.32 L225.92 184.34 L226.40 184.32 L226.89 184.49 L227.37 184.38 L227.85 184.52 L228.33 184.30 L228.81 184.33 L229.30 184.56 L229.78 184.33 L230.26 184.60 L230.75 184.63 L231.23 184.40 L231.71 184.56 L232.19 184.48 L232.67 184.43 L233.16 184.65 L233.64 184.39 L234.12 184.57 L234.61 184.51 L235.09 184.54 L235.57 184.40 L236.05 184.39 L236.53 184.56 L237.02 184.63 L237.50 184.56" fill="none" stroke="#ff2a2a" stroke-width="1.7" stroke-linejoin="round"/>
<rect x="44.5" y="161.0" width="193.0" height="45.6" fill="none" stroke="#747474" stroke-width="1"/>
<text class="ss" x="34.9" y="163.4" font-size="6.6" fill="#222" text-anchor="end" textLength="8.5" lengthAdjust="spacing" stroke="#222" stroke-width="0.3">10</text>
<text class="ss" x="34.9" y="174.8" font-size="6.6" fill="#222" text-anchor="end" textLength="4.2" lengthAdjust="spacing" stroke="#222" stroke-width="0.3">5</text>
<text class="ss" x="34.9" y="186.2" font-size="6.6" fill="#222" text-anchor="end" textLength="4.2" lengthAdjust="spacing" stroke="#222" stroke-width="0.3">0</text>
<text class="ss" x="34.9" y="197.6" font-size="6.6" fill="#222" text-anchor="end" textLength="6.0" lengthAdjust="spacing" stroke="#222" stroke-width="0.3">-5</text>
<text class="ss" x="34.9" y="209.0" font-size="6.6" fill="#222" text-anchor="end" textLength="11.1" lengthAdjust="spacing" stroke="#222" stroke-width="0.3">-10</text>
<text class="ss" x="44.7" y="155.1" font-size="7.0" fill="#ff2a2a" textLength="6.3" lengthAdjust="spacing" stroke="#ff2a2a" stroke-width="0.3">Ib</text>
<text class="sf" x="3.9" y="187.8" font-size="9.0" fill="#222" textLength="12.5" lengthAdjust="spacingAndGlyphs" stroke="#222" stroke-width="0.12">(A)</text>
<text class="ss" x="44.5" y="217.5" font-size="6.6" fill="#222" text-anchor="middle" textLength="10.7" lengthAdjust="spacing" stroke="#222" stroke-width="0.3">1.9</text>
<text class="ss" x="92.8" y="217.5" font-size="6.6" fill="#222" text-anchor="middle" textLength="14.9" lengthAdjust="spacing" stroke="#222" stroke-width="0.3">1.95</text>
<text class="ss" x="141.0" y="217.5" font-size="6.6" fill="#222" text-anchor="middle" textLength="4.2" lengthAdjust="spacing" stroke="#222" stroke-width="0.3">2</text>
<text class="ss" x="189.2" y="217.5" font-size="6.6" fill="#222" text-anchor="middle" textLength="14.9" lengthAdjust="spacing" stroke="#222" stroke-width="0.3">2.05</text>
<text class="ss" x="237.5" y="217.5" font-size="6.6" fill="#222" text-anchor="middle" textLength="10.7" lengthAdjust="spacing" stroke="#222" stroke-width="0.3">2.1</text>
<text class="ss" x="141.0" y="225.6" font-size="6.6" fill="#222" text-anchor="middle" textLength="29" lengthAdjust="spacing" stroke="#222" stroke-width="0.3">Time (s)</text>
<text class="sf" x="123.1" y="245.7" font-size="9.6" fill="#111" text-anchor="middle" textLength="12" lengthAdjust="spacingAndGlyphs">(<tspan font-weight="bold">a</tspan>)</text>
<rect x="347.7" y="18.5" width="192.0" height="49.8" fill="#fff" stroke="none"/>
<line x1="347.7" x2="539.7" y1="31.45" y2="31.45" stroke="#8e8e8e" stroke-width="0.6"/>
<line x1="347.7" x2="539.7" y1="43.70" y2="43.70" stroke="#8e8e8e" stroke-width="0.6"/>
<line x1="347.7" x2="539.7" y1="56.25" y2="56.25" stroke="#8e8e8e" stroke-width="0.6"/>
<line x1="395.7" x2="395.7" y1="18.5" y2="68.3" stroke="#7c7c7c" stroke-width="0.6"/>
<line x1="443.7" x2="443.7" y1="18.5" y2="68.3" stroke="#7c7c7c" stroke-width="0.6"/>
<line x1="491.7" x2="491.7" y1="18.5" y2="68.3" stroke="#7c7c7c" stroke-width="0.6"/>
<path d="M347.70 38.87 L539.70 38.87" fill="none" stroke="#6c6cff" stroke-width="1.9" stroke-linejoin="round"/>
<path d="M454.26 38.42 L460.98 38.42" fill="none" stroke="#ff2a2a" stroke-width="0.8" stroke-opacity="0.8" stroke-linejoin="round"/>
<rect x="347.7" y="18.5" width="192.0" height="49.8" fill="none" stroke="#747474" stroke-width="1"/>
<text class="ss" x="337.9" y="21.4" font-size="6.6" fill="#222" text-anchor="end" textLength="4.2" lengthAdjust="spacing" stroke="#222" stroke-width="0.3">4</text>
<text class="ss" x="337.9" y="33.8" font-size="6.6" fill="#222" text-anchor="end" textLength="4.2" lengthAdjust="spacing" stroke="#222" stroke-width="0.3">3</text>
<text class="ss" x="337.9" y="46.2" font-size="6.6" fill="#222" text-anchor="end" textLength="4.2" lengthAdjust="spacing" stroke="#222" stroke-width="0.3">2</text>
<text class="ss" x="337.9" y="58.7" font-size="6.6" fill="#222" text-anchor="end" textLength="4.2" lengthAdjust="spacing" stroke="#222" stroke-width="0.3">1</text>
<text class="ss" x="337.9" y="71.1" font-size="6.6" fill="#222" text-anchor="end" textLength="4.2" lengthAdjust="spacing" stroke="#222" stroke-width="0.3">0</text>
<text class="ss" x="347.9" y="12.6" font-size="7.0" fill="#ff2a2a" textLength="21.6" lengthAdjust="spacing" stroke="#ff2a2a" stroke-width="0.3">sVbus</text>
<text class="ss" x="392.3" y="12.6" font-size="7.0" fill="#2b2bff" textLength="31" lengthAdjust="spacing" stroke="#2b2bff" stroke-width="0.3">sVbus_c</text>
<text class="sf" x="307.5" y="46.5" font-size="9.0" fill="#222" textLength="12.5" lengthAdjust="spacingAndGlyphs" stroke="#222" stroke-width="0.12">(V)</text>
<text class="sf" x="358.9" y="28.0" font-size="9.1" fill="#111" textLength="22.5" lengthAdjust="spacingAndGlyphs" stroke="#111" stroke-width="0.12">sVbus</text>
<text class="sf" x="355.0" y="53.5" font-size="9.1" fill="#111" textLength="30.9" lengthAdjust="spacingAndGlyphs" stroke="#111" stroke-width="0.12">sVbus_c</text>
<line x1="370.6" y1="30.3" x2="370.6" y2="34.1" stroke="#111" stroke-width="1.45"/>
<polygon points="370.6,37.9 368.2,34.1 373.0,34.1" fill="#111"/>
<line x1="370.6" y1="48.0" x2="370.6" y2="43.8" stroke="#111" stroke-width="1.45"/>
<polygon points="370.6,40.0 373.0,43.8 368.2,43.8" fill="#111"/>
<rect x="347.7" y="89.8" width="192.0" height="49.4" fill="#fff" stroke="none"/>
<line x1="347.7" x2="539.7" y1="102.30" y2="102.30" stroke="#8e8e8e" stroke-width="0.6"/>
<line x1="347.7" x2="539.7" y1="114.50" y2="114.50" stroke="#8e8e8e" stroke-width="0.6"/>
<line x1="347.7" x2="539.7" y1="127.30" y2="127.30" stroke="#8e8e8e" stroke-width="0.6"/>
<line x1="395.7" x2="395.7" y1="89.8" y2="139.2" stroke="#7c7c7c" stroke-width="0.6"/>
<line x1="443.7" x2="443.7" y1="89.8" y2="139.2" stroke="#7c7c7c" stroke-width="0.6"/>
<line x1="491.7" x2="491.7" y1="89.8" y2="139.2" stroke="#7c7c7c" stroke-width="0.6"/>
<path d="M347.70 114.69 L348.10 114.69 L348.50 114.69 L348.90 114.69 L349.30 114.69 L349.70 114.69 L350.10 114.69 L350.50 114.69 L350.90 114.69 L351.30 114.69 L351.70 114.69 L352.10 114.69 L352.50 114.69 L352.90 114.69 L353.30 114.69 L353.70 114.69 L354.10 114.69 L354.50 114.69 L354.90 114.69 L355.30 114.69 L355.70 114.69 L356.10 114.69 L356.50 114.69 L356.90 114.69 L357.30 114.69 L357.70 114.69 L358.10 114.69 L358.50 114.69 L358.90 114.69 L359.30 114.69 L359.70 114.69 L360.10 114.69 L360.50 114.69 L360.90 114.69 L361.30 114.69 L361.70 114.69 L362.10 114.69 L362.50 114.69 L362.90 114.69 L363.30 114.69 L363.70 114.69 L364.10 114.69 L364.50 114.69 L364.90 114.69 L365.30 114.69 L365.70 114.69 L366.10 114.69 L366.50 114.69 L366.90 114.69 L367.30 114.69 L367.70 114.69 L368.10 114.69 L368.50 114.69 L368.90 114.69 L369.30 114.69 L369.70 114.69 L370.10 114.69 L370.50 114.69 L370.90 114.69 L371.30 114.69 L371.70 114.69 L372.10 114.69 L372.50 114.69 L372.90 114.69 L373.30 114.69 L373.70 114.69 L374.10 114.69 L374.50 114.69 L374.90 114.69 L375.30 114.69 L375.70 114.69 L376.10 114.69 L376.50 114.69 L376.90 114.69 L377.30 114.69 L377.70 114.69 L378.10 114.69 L378.50 114.69 L378.90 114.69 L379.30 114.69 L379.70 114.69 L380.10 114.69 L380.50 114.69 L380.90 114.69 L381.30 114.69 L381.70 114.69 L382.10 114.69 L382.50 114.69 L382.90 114.69 L383.30 114.69 L383.70 114.69 L384.10 114.69 L384.50 114.69 L384.90 114.69 L385.30 114.69 L385.70 114.69 L386.10 114.69 L386.50 114.69 L386.90 114.69 L387.30 114.69 L387.70 114.69 L388.10 114.69 L388.50 114.69 L388.90 114.69 L389.30 114.69 L389.70 114.69 L390.10 114.69 L390.50 114.69 L390.90 114.69 L391.30 114.69 L391.70 114.69 L392.10 114.69 L392.50 114.69 L392.90 114.69 L393.30 114.69 L393.70 114.69 L394.10 114.69 L394.50 114.69 L394.90 114.69 L395.30 114.69 L395.70 114.69 L396.10 114.69 L396.50 114.69 L396.90 114.69 L397.30 114.69 L397.70 114.69 L398.10 114.69 L398.50 114.69 L398.90 114.69 L399.30 114.69 L399.70 114.69 L400.10 114.69 L400.50 114.69 L400.90 114.69 L401.30 114.69 L401.70 114.69 L402.10 114.69 L402.50 114.69 L402.90 114.69 L403.30 114.69 L403.70 114.69 L404.10 114.69 L404.50 114.69 L404.90 114.69 L405.30 114.69 L405.70 114.69 L406.10 114.69 L406.50 114.69 L406.90 114.69 L407.30 114.69 L407.70 114.69 L408.10 114.69 L408.50 114.69 L408.90 114.69 L409.30 114.69 L409.70 114.69 L410.10 114.69 L410.50 114.69 L410.90 114.69 L411.30 114.69 L411.70 114.69 L412.10 114.69 L412.50 114.69 L412.90 114.69 L413.30 114.69 L413.70 114.69 L414.10 114.69 L414.50 114.69 L414.90 114.69 L415.30 114.69 L415.70 114.69 L416.10 114.69 L416.50 114.69 L416.90 114.69 L417.30 114.69 L417.70 114.69 L418.10 114.69 L418.50 114.69 L418.90 114.69 L419.30 114.69 L419.70 114.69 L420.10 114.69 L420.50 114.69 L420.90 114.69 L421.30 114.69 L421.70 114.69 L422.10 114.69 L422.50 114.69 L422.90 114.69 L423.30 114.69 L423.70 114.69 L424.10 114.69 L424.50 114.69 L424.90 114.69 L425.30 114.69 L425.70 114.69 L426.10 114.69 L426.50 114.69 L426.90 114.69 L427.30 114.69 L427.70 114.69 L428.10 114.69 L428.50 114.69 L428.90 114.69 L429.30 114.69 L429.70 114.69 L430.10 114.69 L430.50 114.69 L430.90 114.69 L431.30 114.69 L431.70 114.69 L432.10 114.69 L432.50 114.69 L432.90 114.69 L433.30 114.69 L433.70 114.69 L434.10 114.69 L434.50 114.69 L434.90 114.69 L435.30 114.69 L435.70 114.69 L436.10 114.69 L436.50 114.69 L436.90 114.69 L437.30 114.69 L437.70 114.69 L438.10 114.69 L438.50 114.69 L438.90 114.69 L439.30 114.69 L439.70 114.69 L440.10 114.69 L440.50 114.69 L440.90 114.69 L441.30 114.69 L441.70 114.69 L442.10 114.69 L442.50 114.69 L442.90 114.69 L443.30 114.69 L443.70 114.69 L444.10 114.69 L444.50 114.69 L444.90 114.69 L445.30 114.69 L445.70 114.69 L446.10 114.69 L446.50 114.69 L446.90 114.69 L447.30 114.69 L447.70 114.69 L448.10 114.69 L448.50 114.69 L448.90 114.69 L449.30 114.69 L449.70 114.69 L450.10 114.69 L450.50 114.69 L450.90 114.69 L451.30 114.69 L451.70 114.69 L452.10 114.69 L452.50 114.69 L452.90 114.69 L453.30 114.69 L453.70 114.69 L454.10 114.69 L454.50 114.69 L454.90 114.69 L455.30 114.69 L455.70 114.69 L456.10 114.69 L456.50 114.69 L456.90 114.69 L457.30 114.69 L457.70 114.69 L458.10 114.69 L458.50 114.69 L458.90 114.69 L459.30 114.69 L459.70 114.69 L460.10 114.69 L460.50 114.69 L460.90 114.69 L461.30 114.69 L461.70 114.69 L462.10 114.69 L462.50 114.69 L462.90 114.69 L463.30 114.69 L463.70 114.69 L464.10 114.69 L464.50 114.69 L464.90 114.69 L465.30 114.69 L465.70 114.69 L466.10 114.69 L466.50 114.69 L466.90 114.69 L467.30 114.69 L467.70 114.69 L468.10 114.69 L468.50 114.69 L468.90 114.69 L469.30 114.69 L469.70 114.69 L470.10 114.69 L470.50 114.69 L470.90 114.69 L471.30 114.69 L471.70 114.69 L472.10 114.69 L472.50 114.69 L472.90 114.69 L473.30 114.69 L473.70 114.69 L474.10 114.69 L474.50 114.69 L474.90 114.69 L475.30 114.69 L475.70 114.69 L476.10 114.69 L476.50 114.69 L476.90 114.69 L477.30 114.69 L477.70 114.69 L478.10 114.69 L478.50 114.69 L478.90 114.69 L479.30 114.69 L479.70 114.69 L480.10 114.69 L480.50 114.69 L480.90 114.69 L481.30 114.69 L481.70 114.69 L482.10 114.69 L482.50 114.69 L482.90 114.69 L483.30 114.69 L483.70 114.69 L484.10 114.69 L484.50 114.69 L484.90 114.69 L485.30 114.69 L485.70 114.69 L486.10 114.69 L486.50 114.69 L486.90 114.69 L487.30 114.69 L487.70 114.69 L488.10 114.69 L488.50 114.69 L488.90 114.69 L489.30 114.69 L489.70 114.69 L490.10 114.69 L490.50 114.69 L490.90 114.69 L491.30 114.69 L491.70 114.69 L492.10 114.69 L492.50 114.69 L492.90 114.69 L493.30 114.69 L493.70 114.69 L494.10 114.69 L494.50 114.69 L494.90 114.69 L495.30 114.69 L495.70 114.69 L496.10 114.69 L496.50 114.69 L496.90 114.69 L497.30 114.69 L497.70 114.69 L498.10 114.69 L498.50 114.69 L498.90 114.69 L499.30 114.69 L499.70 114.69 L500.10 114.69 L500.50 114.69 L500.90 114.69 L501.30 114.69 L501.70 114.69 L502.10 114.69 L502.50 114.69 L502.90 114.69 L503.30 114.69 L503.70 114.69 L504.10 114.69 L504.50 114.69 L504.90 114.69 L505.30 114.69 L505.70 114.69 L506.10 114.69 L506.50 114.69 L506.90 114.69 L507.30 114.69 L507.70 114.69 L508.10 114.69 L508.50 114.69 L508.90 114.69 L509.30 114.69 L509.70 114.69 L510.10 114.69 L510.50 114.69 L510.90 114.69 L511.30 114.69 L511.70 114.69 L512.10 114.69 L512.50 114.69 L512.90 114.69 L513.30 114.69 L513.70 114.69 L514.10 114.69 L514.50 114.69 L514.90 114.69 L515.30 114.69 L515.70 114.69 L516.10 114.69 L516.50 114.69 L516.90 114.69 L517.30 114.69 L517.70 114.69 L518.10 114.69 L518.50 114.69 L518.90 114.69 L519.30 114.69 L519.70 114.69 L520.10 114.69 L520.50 114.69 L520.90 114.69 L521.30 114.69 L521.70 114.69 L522.10 114.69 L522.50 114.69 L522.90 114.69 L523.30 114.69 L523.70 114.69 L524.10 114.69 L524.50 114.69 L524.90 114.69 L525.30 114.69 L525.70 114.69 L526.10 114.69 L526.50 114.69 L526.90 114.69 L527.30 114.69 L527.70 114.69 L528.10 114.69 L528.50 114.69 L528.90 114.69 L529.30 114.69 L529.70 114.69 L530.10 114.69 L530.50 114.69 L530.90 114.69 L531.30 114.69 L531.70 114.69 L532.10 114.69 L532.50 114.69 L532.90 114.69 L533.30 114.69 L533.70 114.69 L534.10 114.69 L534.50 114.69 L534.90 114.69 L535.30 114.69 L535.70 114.69 L536.10 114.69 L536.50 114.69 L536.90 114.69 L537.30 114.69 L537.70 114.69 L538.10 114.69 L538.50 114.69 L538.90 114.69 L539.30 114.69 L539.70 114.69" fill="none" stroke="#ff2a2a" stroke-width="1.0" stroke-opacity="0.85" stroke-linejoin="round"/>
<path d="M347.70 113.98 L348.10 113.98 L348.50 114.00 L348.90 114.03 L349.30 114.08 L349.70 114.13 L350.10 114.19 L350.50 114.26 L350.90 114.34 L351.30 114.42 L351.70 114.50 L352.10 114.58 L352.50 114.66 L352.90 114.74 L353.30 114.81 L353.70 114.87 L354.10 114.92 L354.50 114.97 L354.90 115.00 L355.30 115.02 L355.70 115.02 L356.10 115.02 L356.50 115.00 L356.90 114.97 L357.30 114.92 L357.70 114.87 L358.10 114.81 L358.50 114.74 L358.90 114.66 L359.30 114.58 L359.70 114.50 L360.10 114.42 L360.50 114.34 L360.90 114.26 L361.30 114.19 L361.70 114.13 L362.10 114.08 L362.50 114.03 L362.90 114.00 L363.30 113.98 L363.70 113.98 L364.10 113.98 L364.50 114.00 L364.90 114.03 L365.30 114.08 L365.70 114.13 L366.10 114.19 L366.50 114.26 L366.90 114.34 L367.30 114.42 L367.70 114.50 L368.10 114.58 L368.50 114.66 L368.90 114.74 L369.30 114.81 L369.70 114.87 L370.10 114.92 L370.50 114.97 L370.90 115.00 L371.30 115.02 L371.70 115.02 L372.10 115.02 L372.50 115.00 L372.90 114.97 L373.30 114.92 L373.70 114.87 L374.10 114.81 L374.50 114.74 L374.90 114.66 L375.30 114.58 L375.70 114.50 L376.10 114.42 L376.50 114.34 L376.90 114.26 L377.30 114.19 L377.70 114.13 L378.10 114.08 L378.50 114.03 L378.90 114.00 L379.30 113.98 L379.70 113.98 L380.10 113.98 L380.50 114.00 L380.90 114.03 L381.30 114.08 L381.70 114.13 L382.10 114.19 L382.50 114.26 L382.90 114.34 L383.30 114.42 L383.70 114.50 L384.10 114.58 L384.50 114.66 L384.90 114.74 L385.30 114.81 L385.70 114.87 L386.10 114.92 L386.50 114.97 L386.90 115.00 L387.30 115.02 L387.70 115.02 L388.10 115.02 L388.50 115.00 L388.90 114.97 L389.30 114.92 L389.70 114.87 L390.10 114.81 L390.50 114.74 L390.90 114.66 L391.30 114.58 L391.70 114.50 L392.10 114.42 L392.50 114.34 L392.90 114.26 L393.30 114.19 L393.70 114.13 L394.10 114.08 L394.50 114.03 L394.90 114.00 L395.30 113.98 L395.70 113.98 L396.10 113.98 L396.50 114.00 L396.90 114.03 L397.30 114.08 L397.70 114.13 L398.10 114.19 L398.50 114.26 L398.90 114.34 L399.30 114.42 L399.70 114.50 L400.10 114.58 L400.50 114.66 L400.90 114.74 L401.30 114.81 L401.70 114.87 L402.10 114.92 L402.50 114.97 L402.90 115.00 L403.30 115.02 L403.70 115.02 L404.10 115.02 L404.50 115.00 L404.90 114.97 L405.30 114.92 L405.70 114.87 L406.10 114.81 L406.50 114.74 L406.90 114.66 L407.30 114.58 L407.70 114.50 L408.10 114.42 L408.50 114.34 L408.90 114.26 L409.30 114.19 L409.70 114.13 L410.10 114.08 L410.50 114.03 L410.90 114.00 L411.30 113.98 L411.70 113.98 L412.10 113.98 L412.50 114.00 L412.90 114.03 L413.30 114.08 L413.70 114.13 L414.10 114.19 L414.50 114.26 L414.90 114.34 L415.30 114.42 L415.70 114.50 L416.10 114.58 L416.50 114.66 L416.90 114.74 L417.30 114.81 L417.70 114.87 L418.10 114.92 L418.50 114.97 L418.90 115.00 L419.30 115.02 L419.70 115.02 L420.10 115.02 L420.50 115.00 L420.90 114.97 L421.30 114.92 L421.70 114.87 L422.10 114.81 L422.50 114.74 L422.90 114.66 L423.30 114.58 L423.70 114.50 L424.10 114.42 L424.50 114.34 L424.90 114.26 L425.30 114.19 L425.70 114.13 L426.10 114.08 L426.50 114.03 L426.90 114.00 L427.30 113.98 L427.70 113.98 L428.10 113.98 L428.50 114.00 L428.90 114.03 L429.30 114.08 L429.70 114.13 L430.10 114.19 L430.50 114.26 L430.90 114.34 L431.30 114.42 L431.70 114.50 L432.10 114.58 L432.50 114.66 L432.90 114.74 L433.30 114.81 L433.70 114.87 L434.10 114.92 L434.50 114.97 L434.90 115.00 L435.30 115.02 L435.70 115.02 L436.10 115.02 L436.50 115.00 L436.90 114.97 L437.30 114.92 L437.70 114.87 L438.10 114.81 L438.50 114.74 L438.90 114.66 L439.30 114.58 L439.70 114.50 L440.10 114.42 L440.50 114.34 L440.90 114.26 L441.30 114.19 L441.70 114.13 L442.10 114.08 L442.50 114.03 L442.90 114.00 L443.30 113.98 L443.70 113.98 L444.10 113.98 L444.50 114.00 L444.90 114.03 L445.30 114.08 L445.70 114.13 L446.10 114.19 L446.50 114.26 L446.90 114.34 L447.30 114.42 L447.70 114.50 L448.10 114.58 L448.50 114.66 L448.90 114.74 L449.30 114.81 L449.70 114.87 L450.10 114.92 L450.50 114.97 L450.90 115.00 L451.30 115.02 L451.70 115.02 L452.10 115.02 L452.50 115.00 L452.90 114.97 L453.30 114.92 L453.70 114.87 L454.10 114.81 L454.50 114.74 L454.90 114.66 L455.30 114.58 L455.70 114.50 L456.10 114.42 L456.50 114.34 L456.90 114.26 L457.30 114.19 L457.70 114.13 L458.10 114.08 L458.50 114.03 L458.90 114.00 L459.30 113.98 L459.70 113.98 L460.10 113.98 L460.50 114.00 L460.90 114.03 L461.30 114.08 L461.70 114.13 L462.10 114.19 L462.50 114.26 L462.90 114.34 L463.30 114.42 L463.70 114.50 L464.10 114.58 L464.50 114.66 L464.90 114.74 L465.30 114.81 L465.70 114.87 L466.10 114.92 L466.50 114.97 L466.90 115.00 L467.30 115.02 L467.70 115.02 L468.10 115.02 L468.50 115.00 L468.90 114.97 L469.30 114.92 L469.70 114.87 L470.10 114.81 L470.50 114.74 L470.90 114.66 L471.30 114.58 L471.70 114.50 L472.10 114.42 L472.50 114.34 L472.90 114.26 L473.30 114.19 L473.70 114.13 L474.10 114.08 L474.50 114.03 L474.90 114.00 L475.30 113.98 L475.70 113.98 L476.10 113.98 L476.50 114.00 L476.90 114.03 L477.30 114.08 L477.70 114.13 L478.10 114.19 L478.50 114.26 L478.90 114.34 L479.30 114.42 L479.70 114.50 L480.10 114.58 L480.50 114.66 L480.90 114.74 L481.30 114.81 L481.70 114.87 L482.10 114.92 L482.50 114.97 L482.90 115.00 L483.30 115.02 L483.70 115.02 L484.10 115.02 L484.50 115.00 L484.90 114.97 L485.30 114.92 L485.70 114.87 L486.10 114.81 L486.50 114.74 L486.90 114.66 L487.30 114.58 L487.70 114.50 L488.10 114.42 L488.50 114.34 L488.90 114.26 L489.30 114.19 L489.70 114.13 L490.10 114.08 L490.50 114.03 L490.90 114.00 L491.30 113.98 L491.70 113.98 L492.10 113.98 L492.50 114.00 L492.90 114.03 L493.30 114.08 L493.70 114.13 L494.10 114.19 L494.50 114.26 L494.90 114.34 L495.30 114.42 L495.70 114.50 L496.10 114.58 L496.50 114.66 L496.90 114.74 L497.30 114.81 L497.70 114.87 L498.10 114.92 L498.50 114.97 L498.90 115.00 L499.30 115.02 L499.70 115.02 L500.10 115.02 L500.50 115.00 L500.90 114.97 L501.30 114.92 L501.70 114.87 L502.10 114.81 L502.50 114.74 L502.90 114.66 L503.30 114.58 L503.70 114.50 L504.10 114.42 L504.50 114.34 L504.90 114.26 L505.30 114.19 L505.70 114.13 L506.10 114.08 L506.50 114.03 L506.90 114.00 L507.30 113.98 L507.70 113.98 L508.10 113.98 L508.50 114.00 L508.90 114.03 L509.30 114.08 L509.70 114.13 L510.10 114.19 L510.50 114.26 L510.90 114.34 L511.30 114.42 L511.70 114.50 L512.10 114.58 L512.50 114.66 L512.90 114.74 L513.30 114.81 L513.70 114.87 L514.10 114.92 L514.50 114.97 L514.90 115.00 L515.30 115.02 L515.70 115.02 L516.10 115.02 L516.50 115.00 L516.90 114.97 L517.30 114.92 L517.70 114.87 L518.10 114.81 L518.50 114.74 L518.90 114.66 L519.30 114.58 L519.70 114.50 L520.10 114.42 L520.50 114.34 L520.90 114.26 L521.30 114.19 L521.70 114.13 L522.10 114.08 L522.50 114.03 L522.90 114.00 L523.30 113.98 L523.70 113.98 L524.10 113.98 L524.50 114.00 L524.90 114.03 L525.30 114.08 L525.70 114.13 L526.10 114.19 L526.50 114.26 L526.90 114.34 L527.30 114.42 L527.70 114.50 L528.10 114.58 L528.50 114.66 L528.90 114.74 L529.30 114.81 L529.70 114.87 L530.10 114.92 L530.50 114.97 L530.90 115.00 L531.30 115.02 L531.70 115.02 L532.10 115.02 L532.50 115.00 L532.90 114.97 L533.30 114.92 L533.70 114.87 L534.10 114.81 L534.50 114.74 L534.90 114.66 L535.30 114.58 L535.70 114.50 L536.10 114.42 L536.50 114.34 L536.90 114.26 L537.30 114.19 L537.70 114.13 L538.10 114.08 L538.50 114.03 L538.90 114.00 L539.30 113.98 L539.70 113.98" fill="none" stroke="#2b2bff" stroke-width="1.15" stroke-opacity="0.95" stroke-linejoin="round"/>
<rect x="347.7" y="89.8" width="192.0" height="49.4" fill="none" stroke="#747474" stroke-width="1"/>
<text class="ss" x="337.9" y="92.1" font-size="6.6" fill="#222" text-anchor="end" textLength="4.2" lengthAdjust="spacing" stroke="#222" stroke-width="0.3">4</text>
<text class="ss" x="337.9" y="104.5" font-size="6.6" fill="#222" text-anchor="end" textLength="4.2" lengthAdjust="spacing" stroke="#222" stroke-width="0.3">2</text>
<text class="ss" x="337.9" y="116.8" font-size="6.6" fill="#222" text-anchor="end" textLength="4.2" lengthAdjust="spacing" stroke="#222" stroke-width="0.3">0</text>
<text class="ss" x="337.9" y="129.2" font-size="6.6" fill="#222" text-anchor="end" textLength="6.0" lengthAdjust="spacing" stroke="#222" stroke-width="0.3">-2</text>
<text class="ss" x="337.9" y="141.5" font-size="6.6" fill="#222" text-anchor="end" textLength="6.0" lengthAdjust="spacing" stroke="#222" stroke-width="0.3">-4</text>
<text class="ss" x="347.9" y="83.9" font-size="7.0" fill="#ff2a2a" textLength="10.3" lengthAdjust="spacing" stroke="#ff2a2a" stroke-width="0.3">sIL</text>
<text class="ss" x="381.3" y="83.9" font-size="7.0" fill="#2b2bff" textLength="19.5" lengthAdjust="spacing" stroke="#2b2bff" stroke-width="0.3">sIL_c</text>
<text class="sf" x="307.5" y="113.9" font-size="9.0" fill="#222" textLength="12.5" lengthAdjust="spacingAndGlyphs" stroke="#222" stroke-width="0.12">(A)</text>
<rect x="355.3" y="100.8" width="22.9" height="2.4" fill="#fff"/>
<rect x="351.2" y="125.7" width="31.4" height="2.4" fill="#fff"/>
<text class="sf" x="360.8" y="104.9" font-size="9.1" fill="#111" textLength="11.9" lengthAdjust="spacingAndGlyphs" stroke="#111" stroke-width="0.12">sIL</text>
<text class="sf" x="356.7" y="129.8" font-size="9.1" fill="#111" textLength="20.4" lengthAdjust="spacingAndGlyphs" stroke="#111" stroke-width="0.12">sIL_c</text>
<line x1="366.6" y1="106.5" x2="366.6" y2="109.7" stroke="#111" stroke-width="1.45"/>
<polygon points="366.6,113.5 364.2,109.7 369.0,109.7" fill="#111"/>
<line x1="366.6" y1="123.1" x2="366.6" y2="119.7" stroke="#111" stroke-width="1.45"/>
<polygon points="366.6,115.9 369.0,119.7 364.2,119.7" fill="#111"/>
<rect x="347.7" y="160.4" width="192.0" height="45.2" fill="#fff" stroke="none"/>
<line x1="347.7" x2="539.7" y1="171.70" y2="171.70" stroke="#8e8e8e" stroke-width="0.6"/>
<line x1="347.7" x2="539.7" y1="182.90" y2="182.90" stroke="#8e8e8e" stroke-width="0.6"/>
<line x1="347.7" x2="539.7" y1="194.30" y2="194.30" stroke="#8e8e8e" stroke-width="0.6"/>
<line x1="395.7" x2="395.7" y1="160.4" y2="205.6" stroke="#7c7c7c" stroke-width="0.6"/>
<line x1="443.7" x2="443.7" y1="160.4" y2="205.6" stroke="#7c7c7c" stroke-width="0.6"/>
<line x1="491.7" x2="491.7" y1="160.4" y2="205.6" stroke="#7c7c7c" stroke-width="0.6"/>
<path d="M347.70 181.12 L348.34 181.12 L348.98 181.12 L349.62 181.12 L350.26 181.12 L350.90 181.12 L351.54 181.12 L352.18 181.12 L352.82 181.12 L353.46 181.12 L354.10 181.12 L354.74 181.12 L355.38 181.12 L356.02 181.12 L356.66 181.12 L357.30 181.12 L357.94 181.12 L358.58 181.12 L359.22 181.12 L359.86 181.12 L360.50 181.12 L361.14 181.12 L361.78 181.12 L362.42 181.12 L363.06 181.12 L363.70 181.12 L364.34 181.12 L364.98 181.12 L365.62 181.12 L366.26 181.12 L366.90 181.12 L367.54 181.12 L368.18 181.12 L368.82 181.12 L369.46 181.12 L370.10 181.12 L370.74 181.12 L371.38 181.12 L372.02 181.12 L372.66 181.12 L373.30 181.12 L373.94 181.12 L374.58 181.12 L375.22 181.12 L375.86 181.12 L376.50 181.12 L377.14 181.12 L377.78 181.12 L378.42 181.12 L379.06 181.12 L379.70 181.12 L380.34 181.12 L380.98 181.12 L381.62 181.12 L382.26 181.12 L382.90 181.12 L383.54 181.12 L384.18 181.12 L384.82 181.12 L385.46 181.12 L386.10 181.12 L386.74 181.12 L387.38 181.12 L388.02 181.12 L388.66 181.12 L389.30 181.12 L389.94 181.12 L390.58 181.12 L391.22 181.12 L391.86 181.12 L392.50 181.12 L393.14 181.12 L393.78 181.12 L394.42 181.12 L395.06 181.12 L395.70 181.12 L396.34 181.12 L396.98 181.12 L397.62 181.12 L398.26 181.12 L398.90 181.12 L399.54 181.12 L400.18 181.12 L400.82 181.12 L401.46 181.12 L402.10 181.12 L402.74 181.12 L403.38 181.12 L404.02 181.12 L404.66 181.12 L405.30 181.12 L405.94 181.12 L406.58 181.12 L407.22 181.12 L407.86 181.12 L408.50 181.12 L409.14 181.12 L409.78 181.12 L410.42 181.12 L411.06 181.12 L411.70 181.12 L412.34 181.12 L412.98 181.12 L413.62 181.12 L414.26 181.12 L414.90 181.12 L415.54 181.12 L416.18 181.12 L416.82 181.12 L417.46 181.12 L418.10 181.12 L418.74 181.12 L419.38 181.12 L420.02 181.12 L420.66 181.12 L421.30 181.12 L421.94 181.12 L422.58 181.12 L423.22 181.12 L423.86 181.12 L424.50 181.12 L425.14 181.12 L425.78 181.12 L426.42 181.12 L427.06 181.12 L427.70 181.12 L428.34 181.12 L428.98 181.12 L429.62 181.12 L430.26 181.12 L430.90 181.12 L431.54 181.12 L432.18 181.12 L432.82 181.12 L433.46 181.12 L434.10 181.12 L434.74 181.12 L435.38 181.12 L436.02 181.12 L436.66 181.12 L437.30 181.12 L437.94 181.12 L438.58 181.12 L439.22 181.12 L439.86 181.12 L440.50 181.12 L441.14 181.12 L441.78 181.12 L442.42 181.12 L443.06 181.12 L443.70 181.12 L444.34 181.36 L444.98 181.57 L445.62 181.76 L446.26 181.93 L446.90 182.08 L447.54 182.22 L448.18 182.34 L448.82 182.45 L449.46 182.55 L450.10 182.63 L450.74 182.71 L451.38 182.78 L452.02 182.84 L452.66 182.90 L453.30 182.95 L453.94 183.00 L454.58 183.04 L455.22 183.07 L455.86 183.10 L456.50 183.13 L457.14 183.16 L457.78 183.18 L458.42 183.20 L459.06 183.22 L459.70 183.24 L460.34 183.25 L460.98 183.27 L461.62 183.28 L462.26 183.29 L462.90 183.30 L463.54 183.31 L464.18 183.31 L464.82 183.32 L465.46 183.33 L466.10 183.33 L466.74 183.34 L467.38 183.34 L468.02 183.34 L468.66 183.35 L469.30 183.35 L469.94 183.35 L470.58 183.36 L471.22 183.36 L471.86 183.36 L472.50 183.36 L473.14 183.36 L473.78 183.37 L474.42 183.37 L475.06 183.37 L475.70 183.37 L476.34 183.37 L476.98 183.37 L477.62 183.37 L478.26 183.37 L478.90 183.37 L479.54 183.37 L480.18 183.37 L480.82 183.37 L481.46 183.37 L482.10 183.38 L482.74 183.38 L483.38 183.38 L484.02 183.38 L484.66 183.38 L485.30 183.38 L485.94 183.38 L486.58 183.38 L487.22 183.38 L487.86 183.38 L488.50 183.38 L489.14 183.38 L489.78 183.38 L490.42 183.38 L491.06 183.38 L491.70 183.38 L492.34 183.38 L492.98 183.38 L493.62 183.38 L494.26 183.38 L494.90 183.38 L495.54 183.38 L496.18 183.38 L496.82 183.38 L497.46 183.38 L498.10 183.38 L498.74 183.38 L499.38 183.38 L500.02 183.38 L500.66 183.38 L501.30 183.38 L501.94 183.38 L502.58 183.38 L503.22 183.38 L503.86 183.38 L504.50 183.38 L505.14 183.38 L505.78 183.38 L506.42 183.38 L507.06 183.38 L507.70 183.38 L508.34 183.38 L508.98 183.38 L509.62 183.38 L510.26 183.38 L510.90 183.38 L511.54 183.38 L512.18 183.38 L512.82 183.38 L513.46 183.38 L514.10 183.38 L514.74 183.38 L515.38 183.38 L516.02 183.38 L516.66 183.38 L517.30 183.38 L517.94 183.38 L518.58 183.38 L519.22 183.38 L519.86 183.38 L520.50 183.38 L521.14 183.38 L521.78 183.38 L522.42 183.38 L523.06 183.38 L523.70 183.38 L524.34 183.38 L524.98 183.38 L525.62 183.38 L526.26 183.38 L526.90 183.38 L527.54 183.38 L528.18 183.38 L528.82 183.38 L529.46 183.38 L530.10 183.38 L530.74 183.38 L531.38 183.38 L532.02 183.38 L532.66 183.38 L533.30 183.38 L533.94 183.38 L534.58 183.38 L535.22 183.38 L535.86 183.38 L536.50 183.38 L537.14 183.38 L537.78 183.38 L538.42 183.38 L539.06 183.38 L539.70 183.38" fill="none" stroke="#f0264a" stroke-width="2.0" stroke-linejoin="round"/>
<path d="M347.70 181.32 L348.34 181.32 L348.98 181.32 L349.62 181.32 L350.26 181.32 L350.90 181.32 L351.54 181.32 L352.18 181.32 L352.82 181.32 L353.46 181.32 L354.10 181.32 L354.74 181.32 L355.38 181.32 L356.02 181.32 L356.66 181.32 L357.30 181.32 L357.94 181.32 L358.58 181.32 L359.22 181.32 L359.86 181.32 L360.50 181.32 L361.14 181.32 L361.78 181.32 L362.42 181.32 L363.06 181.32 L363.70 181.32 L364.34 181.32 L364.98 181.32 L365.62 181.32 L366.26 181.32 L366.90 181.32 L367.54 181.32 L368.18 181.32 L368.82 181.32 L369.46 181.32 L370.10 181.32 L370.74 181.32 L371.38 181.32 L372.02 181.32 L372.66 181.32 L373.30 181.32 L373.94 181.32 L374.58 181.32 L375.22 181.32 L375.86 181.32 L376.50 181.32 L377.14 181.32 L377.78 181.32 L378.42 181.32 L379.06 181.32 L379.70 181.32 L380.34 181.32 L380.98 181.32 L381.62 181.32 L382.26 181.32 L382.90 181.32 L383.54 181.32 L384.18 181.32 L384.82 181.32 L385.46 181.32 L386.10 181.32 L386.74 181.32 L387.38 181.32 L388.02 181.32 L388.66 181.32 L389.30 181.32 L389.94 181.32 L390.58 181.32 L391.22 181.32 L391.86 181.32 L392.50 181.32 L393.14 181.32 L393.78 181.32 L394.42 181.32 L395.06 181.32 L395.70 181.32 L396.34 181.32 L396.98 181.32 L397.62 181.32 L398.26 181.32 L398.90 181.32 L399.54 181.32 L400.18 181.32 L400.82 181.32 L401.46 181.32 L402.10 181.32 L402.74 181.32 L403.38 181.32 L404.02 181.32 L404.66 181.32 L405.30 181.32 L405.94 181.32 L406.58 181.32 L407.22 181.32 L407.86 181.32 L408.50 181.32 L409.14 181.32 L409.78 181.32 L410.42 181.32 L411.06 181.32 L411.70 181.32 L412.34 181.32 L412.98 181.32 L413.62 181.32 L414.26 181.32 L414.90 181.32 L415.54 181.32 L416.18 181.32 L416.82 181.32 L417.46 181.32 L418.10 181.32 L418.74 181.32 L419.38 181.32 L420.02 181.32 L420.66 181.32 L421.30 181.32 L421.94 181.32 L422.58 181.32 L423.22 181.32 L423.86 181.32 L424.50 181.32 L425.14 181.32 L425.78 181.32 L426.42 181.32 L427.06 181.32 L427.70 181.32 L428.34 181.32 L428.98 181.32 L429.62 181.32 L430.26 181.32 L430.90 181.32 L431.54 181.32 L432.18 181.32 L432.82 181.32 L433.46 181.32 L434.10 181.32 L434.74 181.32 L435.38 181.32 L436.02 181.32 L436.66 181.32 L437.30 181.32 L437.94 181.32 L438.58 181.32 L439.22 181.32 L439.86 181.32 L440.50 181.32 L441.14 181.32 L441.78 181.32 L442.42 181.32 L443.06 181.32 L443.70 181.32 L444.34 181.56 L444.98 181.77 L445.62 181.96 L446.26 182.13 L446.90 182.28 L447.54 182.42 L448.18 182.54 L448.82 182.65 L449.46 182.75 L450.10 182.83 L450.74 182.91 L451.38 182.98 L452.02 183.04 L452.66 183.10 L453.30 183.15 L453.94 183.20 L454.58 183.24 L455.22 183.27 L455.86 183.30 L456.50 183.33 L457.14 183.36 L457.78 183.38 L458.42 183.40 L459.06 183.42 L459.70 183.44 L460.34 183.45 L460.98 183.47 L461.62 183.48 L462.26 183.49 L462.90 183.50 L463.54 183.51 L464.18 183.51 L464.82 183.52 L465.46 183.53 L466.10 183.53 L466.74 183.54 L467.38 183.54 L468.02 183.54 L468.66 183.55 L469.30 183.55 L469.94 183.55 L470.58 183.56 L471.22 183.56 L471.86 183.56 L472.50 183.56 L473.14 183.56 L473.78 183.57 L474.42 183.57 L475.06 183.57 L475.70 183.57 L476.34 183.57 L476.98 183.57 L477.62 183.57 L478.26 183.57 L478.90 183.57 L479.54 183.57 L480.18 183.57 L480.82 183.57 L481.46 183.57 L482.10 183.58 L482.74 183.58 L483.38 183.58 L484.02 183.58 L484.66 183.58 L485.30 183.58 L485.94 183.58 L486.58 183.58 L487.22 183.58 L487.86 183.58 L488.50 183.58 L489.14 183.58 L489.78 183.58 L490.42 183.58 L491.06 183.58 L491.70 183.58 L492.34 183.58 L492.98 183.58 L493.62 183.58 L494.26 183.58 L494.90 183.58 L495.54 183.58 L496.18 183.58 L496.82 183.58 L497.46 183.58 L498.10 183.58 L498.74 183.58 L499.38 183.58 L500.02 183.58 L500.66 183.58 L501.30 183.58 L501.94 183.58 L502.58 183.58 L503.22 183.58 L503.86 183.58 L504.50 183.58 L505.14 183.58 L505.78 183.58 L506.42 183.58 L507.06 183.58 L507.70 183.58 L508.34 183.58 L508.98 183.58 L509.62 183.58 L510.26 183.58 L510.90 183.58 L511.54 183.58 L512.18 183.58 L512.82 183.58 L513.46 183.58 L514.10 183.58 L514.74 183.58 L515.38 183.58 L516.02 183.58 L516.66 183.58 L517.30 183.58 L517.94 183.58 L518.58 183.58 L519.22 183.58 L519.86 183.58 L520.50 183.58 L521.14 183.58 L521.78 183.58 L522.42 183.58 L523.06 183.58 L523.70 183.58 L524.34 183.58 L524.98 183.58 L525.62 183.58 L526.26 183.58 L526.90 183.58 L527.54 183.58 L528.18 183.58 L528.82 183.58 L529.46 183.58 L530.10 183.58 L530.74 183.58 L531.38 183.58 L532.02 183.58 L532.66 183.58 L533.30 183.58 L533.94 183.58 L534.58 183.58 L535.22 183.58 L535.86 183.58 L536.50 183.58 L537.14 183.58 L537.78 183.58 L538.42 183.58 L539.06 183.58 L539.70 183.58" fill="none" stroke="#3a22e8" stroke-width="1.15" stroke-linejoin="round"/>
<rect x="347.7" y="160.4" width="192.0" height="45.2" fill="none" stroke="#747474" stroke-width="1"/>
<text class="ss" x="337.8" y="162.5" font-size="6.6" fill="#222" text-anchor="end" textLength="4.2" lengthAdjust="spacing" stroke="#222" stroke-width="0.3">1</text>
<text class="ss" x="337.8" y="173.8" font-size="6.6" fill="#222" text-anchor="end" textLength="10.7" lengthAdjust="spacing" stroke="#222" stroke-width="0.3">0.5</text>
<text class="ss" x="337.8" y="185.1" font-size="6.6" fill="#222" text-anchor="end" textLength="4.2" lengthAdjust="spacing" stroke="#222" stroke-width="0.3">0</text>
<text class="ss" x="337.8" y="196.4" font-size="6.6" fill="#222" text-anchor="end" textLength="13.2" lengthAdjust="spacing" stroke="#222" stroke-width="0.3">-0.5</text>
<text class="ss" x="337.8" y="207.7" font-size="6.6" fill="#222" text-anchor="end" textLength="6.0" lengthAdjust="spacing" stroke="#222" stroke-width="0.3">-1</text>
<text class="ss" x="347.9" y="154.5" font-size="7.0" fill="#ff2a2a" textLength="10.3" lengthAdjust="spacing" stroke="#ff2a2a" stroke-width="0.3">sIb</text>
<text class="ss" x="381.3" y="154.5" font-size="7.0" fill="#2b2bff" textLength="19.5" lengthAdjust="spacing" stroke="#2b2bff" stroke-width="0.3">sIb_c</text>
<text class="sf" x="307.5" y="186.1" font-size="9.0" fill="#222" textLength="12.5" lengthAdjust="spacingAndGlyphs" stroke="#222" stroke-width="0.12">(A)</text>
<rect x="356.0" y="170.5" width="21.5" height="2.4" fill="#fff"/>
<rect x="351.8" y="193.1" width="29.8" height="2.4" fill="#fff"/>
<text class="sf" x="361.5" y="170.1" font-size="9.1" fill="#111" textLength="10.5" lengthAdjust="spacingAndGlyphs" stroke="#111" stroke-width="0.12">sIb</text>
<text class="sf" x="357.3" y="199.0" font-size="9.1" fill="#111" textLength="18.8" lengthAdjust="spacingAndGlyphs" stroke="#111" stroke-width="0.12">sIb_c</text>
<line x1="366.8" y1="172.4" x2="366.8" y2="176.0" stroke="#111" stroke-width="1.45"/>
<polygon points="366.8,179.8 364.4,176.0 369.2,176.0" fill="#111"/>
<line x1="366.8" y1="191.2" x2="366.8" y2="186.6" stroke="#111" stroke-width="1.45"/>
<polygon points="366.8,182.8 369.2,186.6 364.4,186.6" fill="#111"/>
<text class="ss" x="347.7" y="217.2" font-size="6.6" fill="#222" text-anchor="middle" textLength="10.7" lengthAdjust="spacing" stroke="#222" stroke-width="0.3">1.9</text>
<text class="ss" x="395.7" y="217.2" font-size="6.6" fill="#222" text-anchor="middle" textLength="14.9" lengthAdjust="spacing" stroke="#222" stroke-width="0.3">1.95</text>
<text class="ss" x="443.7" y="217.2" font-size="6.6" fill="#222" text-anchor="middle" textLength="4.2" lengthAdjust="spacing" stroke="#222" stroke-width="0.3">2</text>
<text class="ss" x="491.7" y="217.2" font-size="6.6" fill="#222" text-anchor="middle" textLength="14.9" lengthAdjust="spacing" stroke="#222" stroke-width="0.3">2.05</text>
<text class="ss" x="539.7" y="217.2" font-size="6.6" fill="#222" text-anchor="middle" textLength="10.7" lengthAdjust="spacing" stroke="#222" stroke-width="0.3">2.1</text>
<text class="ss" x="443.7" y="225.3" font-size="6.6" fill="#222" text-anchor="middle" textLength="29" lengthAdjust="spacing" stroke="#222" stroke-width="0.3">Time (s)</text>
<text class="sf" x="425.0" y="245.6" font-size="9.6" fill="#111" text-anchor="middle" textLength="12.8" lengthAdjust="spacingAndGlyphs">(<tspan font-weight="bold">b</tspan>)</text>
<rect x="46.4" y="269.1" width="187.0" height="48.1" fill="#fff" stroke="none"/>
<line x1="46.4" x2="233.4" y1="281.48" y2="281.48" stroke="#b0b0b0" stroke-width="0.6"/>
<line x1="46.4" x2="233.4" y1="293.55" y2="293.55" stroke="#b0b0b0" stroke-width="0.6"/>
<line x1="46.4" x2="233.4" y1="305.57" y2="305.57" stroke="#b0b0b0" stroke-width="0.6"/>
<line x1="93.2" x2="93.2" y1="269.1" y2="317.2" stroke="#949494" stroke-width="0.6"/>
<line x1="139.9" x2="139.9" y1="269.1" y2="317.2" stroke="#949494" stroke-width="0.6"/>
<line x1="186.7" x2="186.7" y1="269.1" y2="317.2" stroke="#949494" stroke-width="0.6"/>
<path d="M46.40 293.40 L47.33 293.40 L48.27 293.40 L49.21 293.40 L50.14 293.40 L51.07 293.40 L52.01 293.40 L52.95 293.40 L53.88 293.40 L54.81 293.40 L55.75 293.40 L56.69 293.40 L57.62 293.40 L58.55 293.40 L59.49 293.40 L60.43 293.40 L61.36 293.40 L62.29 293.40 L63.23 293.40 L64.17 293.40 L65.10 293.40 L66.03 293.40 L66.97 293.40 L67.91 293.40 L68.84 293.40 L69.77 293.40 L70.71 293.40 L71.65 293.40 L72.58 293.40 L73.51 293.40 L74.45 293.40 L75.39 293.40 L76.32 293.40 L77.25 293.40 L78.19 293.40 L79.13 293.40 L80.06 293.40 L80.99 293.40 L81.93 293.40 L82.87 293.40 L83.80 293.40 L84.73 293.40 L85.67 293.40 L86.61 293.40 L87.54 293.40 L88.47 293.40 L89.41 293.40 L90.35 293.40 L91.28 293.40 L92.21 293.40 L93.15 293.40 L94.09 293.40 L95.02 293.40 L95.95 293.40 L96.89 293.40 L97.83 293.40 L98.76 293.40 L99.69 293.40 L100.63 293.40 L101.57 293.40 L102.50 293.40 L103.43 293.40 L104.37 293.40 L105.31 293.40 L106.24 293.40 L107.17 293.40 L108.11 293.40 L109.05 293.40 L109.98 293.40 L110.91 293.40 L111.85 293.40 L112.79 293.40 L113.72 293.40 L114.65 293.40 L115.59 293.40 L116.53 293.40 L117.46 293.40 L118.39 293.40 L119.33 293.40 L120.27 293.40 L121.20 293.40 L122.13 293.40 L123.07 293.40 L124.01 293.40 L124.94 293.40 L125.87 293.40 L126.81 293.40 L127.75 293.40 L128.68 293.40 L129.61 293.40 L130.55 293.40 L131.49 293.40 L132.42 293.40 L133.35 293.40 L134.29 293.40 L135.23 293.40 L136.16 293.40 L137.09 293.40 L138.03 293.40 L138.97 293.40 L139.90 293.40 L140.83 293.47 L141.77 293.51 L142.71 293.56 L143.64 293.61 L144.57 293.68 L145.51 293.75 L146.45 293.82 L147.38 293.88 L148.31 293.93 L149.25 293.97 L150.19 293.98 L151.12 293.97 L152.05 293.93 L152.99 293.88 L153.93 293.81 L154.86 293.74 L155.79 293.67 L156.73 293.61 L157.67 293.55 L158.60 293.50 L159.53 293.46 L160.47 293.43 L161.41 293.40 L162.34 293.38 L163.28 293.36 L164.21 293.34 L165.15 293.32 L166.08 293.30 L167.02 293.27 L167.95 293.25 L168.88 293.22 L169.82 293.20 L170.75 293.18 L171.69 293.15 L172.63 293.14 L173.56 293.12 L174.50 293.11 L175.43 293.11 L176.36 293.11 L177.30 293.12 L178.24 293.14 L179.17 293.15 L180.11 293.18 L181.04 293.20 L181.98 293.22 L182.91 293.25 L183.84 293.27 L184.78 293.29 L185.72 293.31 L186.65 293.33 L187.59 293.35 L188.52 293.36 L189.46 293.37 L190.39 293.38 L191.32 293.38 L192.26 293.39 L193.20 293.39 L194.13 293.39 L195.06 293.40 L196.00 293.40 L196.94 293.40 L197.87 293.40 L198.80 293.40 L199.74 293.40 L200.68 293.40 L201.61 293.40 L202.54 293.40 L203.48 293.40 L204.42 293.40 L205.35 293.40 L206.28 293.40 L207.22 293.40 L208.16 293.40 L209.09 293.40 L210.02 293.40 L210.96 293.40 L211.90 293.40 L212.83 293.40 L213.76 293.40 L214.70 293.40 L215.64 293.40 L216.57 293.40 L217.50 293.40 L218.44 293.40 L219.38 293.40 L220.31 293.40 L221.24 293.40 L222.18 293.40 L223.12 293.40 L224.05 293.40 L224.98 293.40 L225.92 293.40 L226.86 293.40 L227.79 293.40 L228.72 293.40 L229.66 293.40 L230.60 293.40 L231.53 293.40 L232.46 293.40 L233.40 293.40" fill="none" stroke="#ff2a2a" stroke-width="0.85" stroke-opacity="0.7" stroke-linejoin="round"/>
<rect x="46.4" y="269.1" width="187.0" height="48.1" fill="none" stroke="#969696" stroke-width="1"/>
<text class="ss" x="36.8" y="272.1" font-size="6.42" fill="#222" text-anchor="end" textLength="12.8" lengthAdjust="spacing" stroke="#222" stroke-width="0.24">300</text>
<text class="ss" x="36.8" y="284.1" font-size="6.42" fill="#222" text-anchor="end" textLength="12.8" lengthAdjust="spacing" stroke="#222" stroke-width="0.24">250</text>
<text class="ss" x="36.8" y="296.1" font-size="6.42" fill="#222" text-anchor="end" textLength="12.8" lengthAdjust="spacing" stroke="#222" stroke-width="0.24">200</text>
<text class="ss" x="36.8" y="308.1" font-size="6.42" fill="#222" text-anchor="end" textLength="12.8" lengthAdjust="spacing" stroke="#222" stroke-width="0.24">150</text>
<text class="ss" x="36.8" y="320.1" font-size="6.42" fill="#222" text-anchor="end" textLength="12.8" lengthAdjust="spacing" stroke="#222" stroke-width="0.24">100</text>
<text class="ss" x="46.6" y="263.2" font-size="6.8" fill="#ff2a2a" textLength="17.8" lengthAdjust="spacing" stroke="#ff2a2a" stroke-width="0.24">Vbus</text>
<text class="sf" x="7.0" y="296.6" font-size="8.75" fill="#222" textLength="12.5" lengthAdjust="spacingAndGlyphs" stroke="#222" stroke-width="0.096">(V)</text>
<rect x="46.4" y="338.4" width="187.0" height="47.9" fill="#fff" stroke="none"/>
<line x1="46.4" x2="233.4" y1="350.48" y2="350.48" stroke="#b0b0b0" stroke-width="0.6"/>
<line x1="46.4" x2="233.4" y1="362.55" y2="362.55" stroke="#b0b0b0" stroke-width="0.6"/>
<line x1="46.4" x2="233.4" y1="374.32" y2="374.32" stroke="#b0b0b0" stroke-width="0.6"/>
<line x1="93.2" x2="93.2" y1="338.4" y2="386.3" stroke="#949494" stroke-width="0.6"/>
<line x1="139.9" x2="139.9" y1="338.4" y2="386.3" stroke="#949494" stroke-width="0.6"/>
<line x1="186.7" x2="186.7" y1="338.4" y2="386.3" stroke="#949494" stroke-width="0.6"/>
<path d="M46.40 358.37 L46.71 356.14 L47.02 354.02 L47.33 352.03 L47.65 350.21 L47.96 348.59 L48.27 347.20 L48.58 346.05 L48.89 345.16 L49.21 344.55 L49.52 344.22 L49.83 344.19 L50.14 344.45 L50.45 345.00 L50.76 345.83 L51.07 346.92 L51.39 348.27 L51.70 349.84 L52.01 351.62 L52.32 353.57 L52.63 355.67 L52.95 357.88 L53.26 360.17 L53.57 362.50 L53.88 364.84 L54.19 367.14 L54.50 369.38 L54.81 371.52 L55.13 373.52 L55.44 375.35 L55.75 376.98 L56.06 378.40 L56.37 379.57 L56.69 380.48 L57.00 381.11 L57.31 381.46 L57.62 381.52 L57.93 381.28 L58.24 380.75 L58.55 379.95 L58.87 378.87 L59.18 377.55 L59.49 375.99 L59.80 374.23 L60.11 372.29 L60.43 370.20 L60.74 368.00 L61.05 365.72 L61.36 363.39 L61.67 361.05 L61.98 358.74 L62.29 356.50 L62.61 354.35 L62.92 352.34 L63.23 350.49 L63.54 348.84 L63.85 347.41 L64.17 346.21 L64.48 345.28 L64.79 344.63 L65.10 344.26 L65.41 344.18 L65.72 344.39 L66.03 344.89 L66.35 345.68 L66.66 346.73 L66.97 348.04 L67.28 349.57 L67.59 351.32 L67.91 353.25 L68.22 355.32 L68.53 357.52 L68.84 359.80 L69.15 362.12 L69.46 364.46 L69.77 366.77 L70.09 369.03 L70.40 371.18 L70.71 373.20 L71.02 375.07 L71.33 376.74 L71.65 378.19 L71.96 379.40 L72.27 380.35 L72.58 381.03 L72.89 381.43 L73.20 381.53 L73.51 381.34 L73.83 380.86 L74.14 380.10 L74.45 379.06 L74.76 377.78 L75.07 376.26 L75.39 374.53 L75.70 372.61 L76.01 370.55 L76.32 368.36 L76.63 366.09 L76.94 363.76 L77.25 361.43 L77.57 359.11 L77.88 356.85 L78.19 354.69 L78.50 352.65 L78.81 350.78 L79.13 349.09 L79.44 347.62 L79.75 346.39 L80.06 345.41 L80.37 344.71 L80.68 344.30 L80.99 344.17 L81.31 344.34 L81.62 344.79 L81.93 345.53 L82.24 346.54 L82.55 347.81 L82.87 349.31 L83.18 351.03 L83.49 352.93 L83.80 354.98 L84.11 357.16 L84.42 359.43 L84.73 361.75 L85.05 364.09 L85.36 366.41 L85.67 368.67 L85.98 370.84 L86.29 372.89 L86.61 374.78 L86.92 376.48 L87.23 377.97 L87.54 379.22 L87.85 380.22 L88.16 380.94 L88.47 381.38 L88.79 381.53 L89.10 381.39 L89.41 380.95 L89.72 380.24 L90.03 379.25 L90.35 378.00 L90.66 376.52 L90.97 374.82 L91.28 372.93 L91.59 370.89 L91.90 368.72 L92.21 366.46 L92.53 364.14 L92.84 361.80 L93.15 359.48 L93.46 357.21 L93.77 355.03 L94.09 352.97 L94.40 351.07 L94.71 349.35 L95.02 347.84 L95.33 346.57 L95.64 345.55 L95.95 344.81 L96.27 344.34 L96.58 344.17 L96.89 344.29 L97.20 344.70 L97.51 345.39 L97.83 346.36 L98.14 347.59 L98.45 349.06 L98.76 350.74 L99.07 352.61 L99.38 354.64 L99.69 356.80 L100.01 359.06 L100.32 361.37 L100.63 363.71 L100.94 366.04 L101.25 368.31 L101.57 370.50 L101.88 372.57 L102.19 374.49 L102.50 376.22 L102.81 377.75 L103.12 379.04 L103.43 380.08 L103.75 380.84 L104.06 381.33 L104.37 381.53 L104.68 381.43 L104.99 381.04 L105.31 380.37 L105.62 379.42 L105.93 378.22 L106.24 376.77 L106.55 375.11 L106.86 373.25 L107.17 371.23 L107.49 369.08 L107.80 366.83 L108.11 364.51 L108.42 362.18 L108.73 359.85 L109.05 357.57 L109.36 355.37 L109.67 353.29 L109.98 351.36 L110.29 349.61 L110.60 348.07 L110.91 346.76 L111.23 345.70 L111.54 344.91 L111.85 344.40 L112.16 344.18 L112.47 344.25 L112.79 344.61 L113.10 345.26 L113.41 346.19 L113.72 347.38 L114.03 348.80 L114.34 350.45 L114.65 352.30 L114.97 354.30 L115.28 356.45 L115.59 358.69 L115.90 361.00 L116.21 363.33 L116.53 365.66 L116.84 367.95 L117.15 370.15 L117.46 372.25 L117.77 374.19 L118.08 375.95 L118.39 377.52 L118.71 378.85 L119.02 379.93 L119.33 380.74 L119.64 381.27 L119.95 381.51 L120.27 381.47 L120.58 381.13 L120.89 380.50 L121.20 379.59 L121.51 378.43 L121.82 377.02 L122.13 375.39 L122.45 373.56 L122.76 371.56 L123.07 369.43 L123.38 367.19 L123.69 364.89 L124.01 362.55 L124.32 360.22 L124.63 357.93 L124.94 355.72 L125.25 353.62 L125.56 351.66 L125.87 349.88 L126.19 348.30 L126.50 346.95 L126.81 345.85 L127.12 345.02 L127.43 344.46 L127.75 344.19 L128.06 344.22 L128.37 344.54 L128.68 345.14 L128.99 346.02 L129.30 347.17 L129.61 348.56 L129.93 350.17 L130.24 351.99 L130.55 353.97 L130.86 356.09 L131.17 358.32 L131.49 360.62 L131.80 362.96 L132.11 365.29 L132.42 367.59 L132.73 369.81 L133.04 371.92 L133.35 373.89 L133.67 375.68 L133.98 377.28 L134.29 378.65 L134.60 379.77 L134.91 380.63 L135.23 381.20 L135.54 381.50 L135.85 381.49 L136.16 381.20 L136.47 380.62 L136.78 379.76 L137.09 378.63 L137.41 377.26 L137.72 375.66 L138.03 373.86 L138.34 371.89 L138.65 369.78 L138.97 367.56 L139.28 365.26 L139.59 362.93 L139.90 360.60 L140.21 358.30 L140.52 356.07 L140.83 353.95 L141.15 351.97 L141.46 350.15 L141.77 348.54 L142.08 347.15 L142.39 346.01 L142.71 345.13 L143.02 344.53 L143.33 344.22 L143.64 344.20 L143.95 344.47 L144.26 345.02 L144.57 345.86 L144.89 346.97 L145.20 348.32 L145.51 349.90 L145.82 351.68 L146.13 353.64 L146.45 355.74 L146.76 357.96 L147.07 360.25 L147.38 362.58 L147.69 364.92 L148.00 367.22 L148.31 369.46 L148.63 371.59 L148.94 373.58 L149.25 375.41 L149.56 377.04 L149.87 378.44 L150.19 379.61 L150.50 380.51 L150.81 381.13 L151.12 381.47 L151.43 381.51 L151.74 381.27 L152.05 380.73 L152.37 379.92 L152.68 378.83 L152.99 377.50 L153.30 375.94 L153.61 374.17 L153.93 372.22 L154.24 370.13 L154.55 367.92 L154.86 365.64 L155.17 363.31 L155.48 360.97 L155.79 358.66 L156.11 356.42 L156.42 354.28 L156.73 352.27 L157.04 350.43 L157.35 348.79 L157.67 347.36 L157.98 346.18 L158.29 345.25 L158.60 344.61 L158.91 344.25 L159.22 344.18 L159.53 344.40 L159.85 344.92 L160.16 345.71 L160.47 346.77 L160.78 348.09 L161.09 349.63 L161.40 351.38 L161.72 353.32 L162.03 355.40 L162.34 357.60 L162.65 359.88 L162.96 362.20 L163.28 364.54 L163.59 366.85 L163.90 369.10 L164.21 371.25 L164.52 373.27 L164.83 375.13 L165.15 376.79 L165.46 378.23 L165.77 379.44 L166.08 380.38 L166.39 381.05 L166.70 381.43 L167.02 381.53 L167.33 381.33 L167.64 380.84 L167.95 380.06 L168.26 379.02 L168.57 377.73 L168.88 376.20 L169.20 374.46 L169.51 372.55 L169.82 370.47 L170.13 368.28 L170.44 366.01 L170.75 363.68 L171.07 361.35 L171.38 359.03 L171.69 356.78 L172.00 354.62 L172.31 352.59 L172.63 350.72 L172.94 349.04 L173.25 347.57 L173.56 346.35 L173.87 345.39 L174.18 344.69 L174.50 344.29 L174.81 344.17 L175.12 344.35 L175.43 344.81 L175.74 345.56 L176.05 346.58 L176.36 347.86 L176.68 349.37 L176.99 351.09 L177.30 352.99 L177.61 355.05 L177.92 357.24 L178.24 359.51 L178.55 361.83 L178.86 364.17 L179.17 366.48 L179.48 368.75 L179.79 370.91 L180.11 372.96 L180.42 374.84 L180.73 376.54 L181.04 378.02 L181.35 379.26 L181.66 380.25 L181.98 380.96 L182.29 381.39 L182.60 381.53 L182.91 381.38 L183.22 380.93 L183.53 380.21 L183.84 379.21 L184.16 377.95 L184.47 376.46 L184.78 374.76 L185.09 372.87 L185.40 370.82 L185.72 368.64 L186.03 366.38 L186.34 364.06 L186.65 361.72 L186.96 359.40 L187.27 357.13 L187.59 354.96 L187.90 352.90 L188.21 351.01 L188.52 349.29 L188.83 347.79 L189.14 346.53 L189.46 345.52 L189.77 344.79 L190.08 344.33 L190.39 344.17 L190.70 344.30 L191.01 344.72 L191.32 345.42 L191.64 346.40 L191.95 347.64 L192.26 349.11 L192.57 350.80 L192.88 352.68 L193.20 354.71 L193.51 356.88 L193.82 359.14 L194.13 361.45 L194.44 363.79 L194.75 366.11 L195.06 368.39 L195.38 370.57 L195.69 372.64 L196.00 374.55 L196.31 376.28 L196.62 377.79 L196.94 379.08 L197.25 380.11 L197.56 380.87 L197.87 381.34 L198.18 381.53 L198.49 381.42 L198.80 381.03 L199.12 380.34 L199.43 379.39 L199.74 378.17 L200.05 376.72 L200.36 375.04 L200.68 373.18 L200.99 371.16 L201.30 369.00 L201.61 366.75 L201.92 364.43 L202.23 362.10 L202.54 359.77 L202.86 357.49 L203.17 355.30 L203.48 353.22 L203.79 351.30 L204.10 349.56 L204.42 348.02 L204.73 346.72 L205.04 345.67 L205.35 344.89 L205.66 344.39 L205.97 344.18 L206.28 344.26 L206.60 344.63 L206.91 345.29 L207.22 346.23 L207.53 347.42 L207.84 348.86 L208.16 350.51 L208.47 352.36 L208.78 354.38 L209.09 356.52 L209.40 358.77 L209.71 361.08 L210.02 363.41 L210.34 365.74 L210.65 368.03 L210.96 370.23 L211.27 372.31 L211.58 374.25 L211.90 376.01 L212.21 377.56 L212.52 378.89 L212.83 379.96 L213.14 380.76 L213.45 381.28 L213.76 381.52 L214.08 381.46 L214.39 381.11 L214.70 380.47 L215.01 379.56 L215.32 378.38 L215.64 376.97 L215.95 375.33 L216.26 373.49 L216.57 371.49 L216.88 369.35 L217.19 367.12 L217.50 364.81 L217.82 362.47 L218.13 360.14 L218.44 357.85 L218.75 355.65 L219.06 353.55 L219.38 351.60 L219.69 349.82 L220.00 348.25 L220.31 346.91 L220.62 345.82 L220.93 344.99 L221.24 344.45 L221.56 344.19 L221.87 344.23 L222.18 344.55 L222.49 345.17 L222.80 346.06 L223.12 347.21 L223.43 348.61 L223.74 350.23 L224.05 352.05 L224.36 354.04 L224.67 356.17 L224.98 358.40 L225.30 360.70 L225.61 363.04 L225.92 365.37 L226.23 367.66 L226.54 369.88 L226.86 371.99 L227.17 373.95 L227.48 375.74 L227.79 377.33 L228.10 378.69 L228.41 379.80 L228.72 380.65 L229.04 381.22 L229.35 381.50 L229.66 381.49 L229.97 381.18 L230.28 380.59 L230.60 379.72 L230.91 378.59 L231.22 377.21 L231.53 375.61 L231.84 373.80 L232.15 371.82 L232.46 369.71 L232.78 367.48 L233.09 365.18 L233.40 362.85" fill="none" stroke="#ff2a2a" stroke-width="0.85" stroke-opacity="0.78" stroke-linejoin="round"/>
<path d="M46.40 362.78 L46.87 362.87 L47.33 362.85 L47.80 362.67 L48.27 362.69 L48.74 362.61 L49.21 362.61 L49.67 362.64 L50.14 362.79 L50.61 362.85 L51.07 362.80 L51.54 362.76 L52.01 362.74 L52.48 362.74 L52.95 362.79 L53.41 362.65 L53.88 362.81 L54.35 362.76 L54.81 362.64 L55.28 362.66 L55.75 362.81 L56.22 362.82 L56.69 362.66 L57.15 362.89 L57.62 362.86 L58.09 362.74 L58.55 362.74 L59.02 362.85 L59.49 362.88 L59.96 362.84 L60.43 362.67 L60.89 362.76 L61.36 362.61 L61.83 362.67 L62.29 362.61 L62.76 362.88 L63.23 362.84 L63.70 362.89 L64.17 362.77 L64.63 362.80 L65.10 362.88 L65.57 362.74 L66.03 362.87 L66.50 362.80 L66.97 362.82 L67.44 362.66 L67.91 362.77 L68.37 362.82 L68.84 362.88 L69.31 362.77 L69.77 362.71 L70.24 362.70 L70.71 362.63 L71.18 362.66 L71.65 362.82 L72.11 362.85 L72.58 362.68 L73.05 362.67 L73.51 362.75 L73.98 362.65 L74.45 362.74 L74.92 362.81 L75.39 362.85 L75.85 362.89 L76.32 362.71 L76.79 362.64 L77.25 362.63 L77.72 362.76 L78.19 362.70 L78.66 362.63 L79.13 362.66 L79.59 362.72 L80.06 362.77 L80.53 362.74 L80.99 362.84 L81.46 362.84 L81.93 362.70 L82.40 362.61 L82.87 362.74 L83.33 362.78 L83.80 362.79 L84.27 362.76 L84.73 362.66 L85.20 362.76 L85.67 362.62 L86.14 362.85 L86.61 362.80 L87.07 362.74 L87.54 362.78 L88.01 362.65 L88.47 362.66 L88.94 362.63 L89.41 362.72 L89.88 362.88 L90.35 362.73 L90.81 362.74 L91.28 362.75 L91.75 362.81 L92.21 362.69 L92.68 362.63 L93.15 362.86 L93.62 362.70 L94.09 362.79 L94.55 362.75 L95.02 362.64 L95.49 362.62 L95.95 362.71 L96.42 362.84 L96.89 362.63 L97.36 362.84 L97.83 362.78 L98.29 362.66 L98.76 362.80 L99.23 362.82 L99.69 362.62 L100.16 362.62 L100.63 362.80 L101.10 362.78 L101.57 362.81 L102.03 362.86 L102.50 362.82 L102.97 362.61 L103.43 362.87 L103.90 362.83 L104.37 362.84 L104.84 362.87 L105.31 362.74 L105.77 362.68 L106.24 362.65 L106.71 362.71 L107.17 362.66 L107.64 362.89 L108.11 362.81 L108.58 362.62 L109.05 362.87 L109.51 362.82 L109.98 362.75 L110.45 362.82 L110.91 362.74 L111.38 362.88 L111.85 362.83 L112.32 362.62 L112.79 362.85 L113.25 362.63 L113.72 362.84 L114.19 362.61 L114.65 362.70 L115.12 362.71 L115.59 362.85 L116.06 362.88 L116.53 362.68 L116.99 362.84 L117.46 362.84 L117.93 362.66 L118.39 362.64 L118.86 362.88 L119.33 362.62 L119.80 362.74 L120.27 362.78 L120.73 362.86 L121.20 362.78 L121.67 362.61 L122.13 362.81 L122.60 362.86 L123.07 362.85 L123.54 362.86 L124.01 362.79 L124.47 362.63 L124.94 362.87 L125.41 362.84 L125.87 362.62 L126.34 362.61 L126.81 362.61 L127.28 362.82 L127.75 362.79 L128.21 362.62 L128.68 362.75 L129.15 362.69 L129.61 362.80 L130.08 362.89 L130.55 362.79 L131.02 362.68 L131.49 362.67 L131.95 362.73 L132.42 362.76 L132.89 362.74 L133.35 362.77 L133.82 362.74 L134.29 362.65 L134.76 362.84 L135.23 362.72 L135.69 362.63 L136.16 362.65 L136.63 362.84 L137.09 362.62 L137.56 362.65 L138.03 362.85 L138.50 362.82 L138.97 362.83 L139.43 362.88 L139.90 362.61 L140.37 362.77 L140.83 362.63 L141.30 362.84 L141.77 362.85 L142.24 362.58 L142.71 362.57 L143.17 362.48 L143.64 362.52 L144.11 362.51 L144.57 362.40 L145.04 362.55 L145.51 362.40 L145.98 362.43 L146.45 362.55 L146.91 362.48 L147.38 362.65 L147.85 362.72 L148.31 362.91 L148.78 363.10 L149.25 363.28 L149.72 363.41 L150.19 363.50 L150.65 363.69 L151.12 363.85 L151.59 363.94 L152.05 364.12 L152.52 363.87 L152.99 363.96 L153.46 363.85 L153.93 363.54 L154.39 363.26 L154.86 363.15 L155.33 362.84 L155.79 362.72 L156.26 362.32 L156.73 362.26 L157.20 362.06 L157.67 361.87 L158.13 361.63 L158.60 361.49 L159.07 361.56 L159.53 361.58 L160.00 361.57 L160.47 361.82 L160.94 361.85 L161.41 361.88 L161.87 362.06 L162.34 362.42 L162.81 362.34 L163.28 362.61 L163.74 362.56 L164.21 362.85 L164.68 362.99 L165.15 362.98 L165.61 362.96 L166.08 363.15 L166.55 363.08 L167.02 363.16 L167.48 363.27 L167.95 363.28 L168.42 363.19 L168.88 363.18 L169.35 363.13 L169.82 362.99 L170.29 362.87 L170.75 362.90 L171.22 362.98 L171.69 362.92 L172.16 362.85 L172.63 362.76 L173.09 362.88 L173.56 362.89 L174.03 362.81 L174.50 362.82 L174.96 362.89 L175.43 362.74 L175.90 362.63 L176.36 362.74 L176.83 362.68 L177.30 362.66 L177.77 362.65 L178.24 362.63 L178.70 362.77 L179.17 362.70 L179.64 362.86 L180.11 362.64 L180.57 362.78 L181.04 362.76 L181.51 362.64 L181.98 362.81 L182.44 362.84 L182.91 362.66 L183.38 362.72 L183.84 362.87 L184.31 362.89 L184.78 362.79 L185.25 362.89 L185.72 362.65 L186.18 362.84 L186.65 362.81 L187.12 362.78 L187.59 362.75 L188.05 362.77 L188.52 362.71 L188.99 362.70 L189.46 362.77 L189.92 362.87 L190.39 362.61 L190.86 362.70 L191.32 362.87 L191.79 362.77 L192.26 362.68 L192.73 362.61 L193.20 362.87 L193.66 362.89 L194.13 362.76 L194.60 362.77 L195.06 362.64 L195.53 362.66 L196.00 362.80 L196.47 362.77 L196.94 362.73 L197.40 362.64 L197.87 362.84 L198.34 362.78 L198.80 362.87 L199.27 362.71 L199.74 362.89 L200.21 362.62 L200.68 362.74 L201.14 362.73 L201.61 362.87 L202.08 362.83 L202.54 362.76 L203.01 362.65 L203.48 362.74 L203.95 362.81 L204.42 362.61 L204.88 362.70 L205.35 362.74 L205.82 362.84 L206.28 362.81 L206.75 362.64 L207.22 362.86 L207.69 362.74 L208.16 362.72 L208.62 362.79 L209.09 362.67 L209.56 362.63 L210.02 362.65 L210.49 362.68 L210.96 362.84 L211.43 362.88 L211.90 362.77 L212.36 362.80 L212.83 362.84 L213.30 362.64 L213.76 362.83 L214.23 362.66 L214.70 362.62 L215.17 362.86 L215.64 362.63 L216.10 362.78 L216.57 362.83 L217.04 362.84 L217.50 362.88 L217.97 362.75 L218.44 362.78 L218.91 362.65 L219.38 362.65 L219.84 362.88 L220.31 362.78 L220.78 362.78 L221.24 362.84 L221.71 362.82 L222.18 362.82 L222.65 362.69 L223.12 362.80 L223.58 362.86 L224.05 362.83 L224.52 362.77 L224.98 362.73 L225.45 362.82 L225.92 362.69 L226.39 362.83 L226.86 362.70 L227.32 362.72 L227.79 362.84 L228.26 362.68 L228.72 362.78 L229.19 362.74 L229.66 362.72 L230.13 362.71 L230.60 362.77 L231.06 362.88 L231.53 362.67 L232.00 362.65 L232.46 362.75 L232.93 362.73 L233.40 362.82" fill="none" stroke="#2b2bff" stroke-width="1.3" stroke-linejoin="round"/>
<rect x="46.4" y="338.4" width="187.0" height="47.9" fill="none" stroke="#969696" stroke-width="1"/>
<text class="ss" x="36.8" y="341.1" font-size="6.42" fill="#222" text-anchor="end" textLength="12.8" lengthAdjust="spacing" stroke="#222" stroke-width="0.24">200</text>
<text class="ss" x="36.8" y="353.1" font-size="6.42" fill="#222" text-anchor="end" textLength="12.8" lengthAdjust="spacing" stroke="#222" stroke-width="0.24">100</text>
<text class="ss" x="36.8" y="365.1" font-size="6.42" fill="#222" text-anchor="end" textLength="4.2" lengthAdjust="spacing" stroke="#222" stroke-width="0.24">0</text>
<text class="ss" x="36.8" y="377.1" font-size="6.42" fill="#222" text-anchor="end" textLength="15.3" lengthAdjust="spacing" stroke="#222" stroke-width="0.24">-100</text>
<text class="ss" x="36.8" y="389.1" font-size="6.42" fill="#222" text-anchor="end" textLength="15.3" lengthAdjust="spacing" stroke="#222" stroke-width="0.24">-200</text>
<text class="ss" x="46.4" y="332.7" font-size="6.8" fill="#ff2a2a" textLength="13.3" lengthAdjust="spacing" stroke="#ff2a2a" stroke-width="0.24">Vac</text>
<text class="sf" x="59.5" y="333.2" font-size="8.75" fill="#222" textLength="13" lengthAdjust="spacingAndGlyphs" stroke="#222" stroke-width="0.096">(V)</text>
<text class="ss" x="81.8" y="332.7" font-size="6.8" fill="#2b2bff" textLength="22.8" lengthAdjust="spacing" stroke="#2b2bff" stroke-width="0.24">Iac*10</text>
<text class="sf" x="104.1" y="333.2" font-size="8.75" fill="#222" textLength="13" lengthAdjust="spacingAndGlyphs" stroke="#222" stroke-width="0.096">(A)</text>
<line x1="55.5" y1="334.4" x2="60.6" y2="340.0" stroke="#111" stroke-width="1.7"/>
<polygon points="64.1,343.8 59.0,341.4 62.2,338.5" fill="#111"/>
<line x1="92.9" y1="335.3" x2="103.5" y2="358.1" stroke="#111" stroke-width="1.7"/>
<polygon points="105.7,362.8 101.5,359.0 105.5,357.2" fill="#111"/>
<rect x="46.4" y="407.4" width="187.0" height="43.8" fill="#fff" stroke="none"/>
<line x1="46.4" x2="233.4" y1="418.55" y2="418.55" stroke="#b0b0b0" stroke-width="0.6"/>
<line x1="46.4" x2="233.4" y1="429.50" y2="429.50" stroke="#b0b0b0" stroke-width="0.6"/>
<line x1="46.4" x2="233.4" y1="440.65" y2="440.65" stroke="#b0b0b0" stroke-width="0.6"/>
<line x1="93.2" x2="93.2" y1="407.4" y2="451.2" stroke="#949494" stroke-width="0.6"/>
<line x1="139.9" x2="139.9" y1="407.4" y2="451.2" stroke="#949494" stroke-width="0.6"/>
<line x1="186.7" x2="186.7" y1="407.4" y2="451.2" stroke="#949494" stroke-width="0.6"/>
<path d="M46.40 429.82 L46.87 429.89 L47.33 430.05 L47.80 429.85 L48.27 429.79 L48.74 430.01 L49.21 429.78 L49.67 429.96 L50.14 430.07 L50.61 429.88 L51.07 430.01 L51.54 429.88 L52.01 429.93 L52.48 430.09 L52.95 429.95 L53.41 429.83 L53.88 429.96 L54.35 429.94 L54.81 429.83 L55.28 429.98 L55.75 429.96 L56.22 429.93 L56.69 429.84 L57.15 430.06 L57.62 430.10 L58.09 429.87 L58.55 429.94 L59.02 430.03 L59.49 429.82 L59.96 429.82 L60.43 429.94 L60.89 429.79 L61.36 429.84 L61.83 429.87 L62.29 430.03 L62.76 430.13 L63.23 429.89 L63.70 429.87 L64.17 430.01 L64.63 429.96 L65.10 429.93 L65.57 430.04 L66.03 429.89 L66.50 429.94 L66.97 430.00 L67.44 430.09 L67.91 429.94 L68.37 430.02 L68.84 429.88 L69.31 430.07 L69.77 429.99 L70.24 430.06 L70.71 429.99 L71.18 429.93 L71.65 430.09 L72.11 430.11 L72.58 429.96 L73.05 430.06 L73.51 429.96 L73.98 430.07 L74.45 430.10 L74.92 429.94 L75.39 429.81 L75.85 429.83 L76.32 429.95 L76.79 429.99 L77.25 430.11 L77.72 430.04 L78.19 430.02 L78.66 429.80 L79.13 430.09 L79.59 429.80 L80.06 429.97 L80.53 429.98 L80.99 430.04 L81.46 429.79 L81.93 430.07 L82.40 429.93 L82.87 429.95 L83.33 430.06 L83.80 430.05 L84.27 429.79 L84.73 429.86 L85.20 429.88 L85.67 429.82 L86.14 430.10 L86.61 429.89 L87.07 429.87 L87.54 430.05 L88.01 429.97 L88.47 429.79 L88.94 430.02 L89.41 429.87 L89.88 430.07 L90.35 429.90 L90.81 430.04 L91.28 429.95 L91.75 430.00 L92.21 429.83 L92.68 429.87 L93.15 429.96 L93.62 429.89 L94.09 429.98 L94.55 429.85 L95.02 430.04 L95.49 429.94 L95.95 429.93 L96.42 430.00 L96.89 430.12 L97.36 430.07 L97.83 429.91 L98.29 430.06 L98.76 429.87 L99.23 429.96 L99.69 429.80 L100.16 429.84 L100.63 429.88 L101.10 430.00 L101.57 430.12 L102.03 429.94 L102.50 429.87 L102.97 429.81 L103.43 430.06 L103.90 430.08 L104.37 429.79 L104.84 429.87 L105.31 429.96 L105.77 429.87 L106.24 430.08 L106.71 429.94 L107.17 429.90 L107.64 429.92 L108.11 430.08 L108.58 430.08 L109.05 429.91 L109.51 429.82 L109.98 430.08 L110.45 430.13 L110.91 430.10 L111.38 429.86 L111.85 430.00 L112.32 429.97 L112.79 429.78 L113.25 429.92 L113.72 430.04 L114.19 429.89 L114.65 430.13 L115.12 430.03 L115.59 429.89 L116.06 430.07 L116.53 430.12 L116.99 429.95 L117.46 430.02 L117.93 429.79 L118.39 430.10 L118.86 429.85 L119.33 430.00 L119.80 429.85 L120.27 429.98 L120.73 429.90 L121.20 430.02 L121.67 430.05 L122.13 429.97 L122.60 429.85 L123.07 430.01 L123.54 430.05 L124.01 429.99 L124.47 430.10 L124.94 430.02 L125.41 429.93 L125.87 429.94 L126.34 429.92 L126.81 430.03 L127.28 430.12 L127.75 430.12 L128.21 430.01 L128.68 430.06 L129.15 429.93 L129.61 430.04 L130.08 429.87 L130.55 429.92 L131.02 429.90 L131.49 429.87 L131.95 429.95 L132.42 429.98 L132.89 430.02 L133.35 430.11 L133.82 429.85 L134.29 429.96 L134.76 430.10 L135.23 429.81 L135.69 429.93 L136.16 429.91 L136.63 429.98 L137.09 430.09 L137.56 429.78 L138.03 430.07 L138.50 430.00 L138.97 429.78 L139.43 430.09 L139.90 429.96 L140.37 429.73 L140.83 429.58 L141.30 429.13 L141.77 429.12 L142.24 429.07 L142.71 428.73 L143.17 428.73 L143.64 428.33 L144.11 428.13 L144.57 427.98 L145.04 428.16 L145.51 427.82 L145.98 427.83 L146.45 427.67 L146.91 427.63 L147.38 427.53 L147.85 427.51 L148.31 427.25 L148.78 427.36 L149.25 426.98 L149.72 427.24 L150.19 426.85 L150.65 427.06 L151.12 427.04 L151.59 426.76 L152.05 426.78 L152.52 426.65 L152.99 426.70 L153.46 426.61 L153.93 426.77 L154.39 426.52 L154.86 426.54 L155.33 426.35 L155.79 426.66 L156.26 426.61 L156.73 426.37 L157.20 426.26 L157.67 426.41 L158.13 426.29 L158.60 426.32 L159.07 426.36 L159.53 426.31 L160.00 426.25 L160.47 426.43 L160.94 426.32 L161.41 426.15 L161.87 426.31 L162.34 426.22 L162.81 426.28 L163.28 426.24 L163.74 426.12 L164.21 426.08 L164.68 426.00 L165.15 426.16 L165.61 426.25 L166.08 426.19 L166.55 426.28 L167.02 426.21 L167.48 426.08 L167.95 426.07 L168.42 426.19 L168.88 426.21 L169.35 426.23 L169.82 426.20 L170.29 426.08 L170.75 426.16 L171.22 425.94 L171.69 426.05 L172.16 426.12 L172.63 426.09 L173.09 426.22 L173.56 425.98 L174.03 425.97 L174.50 426.10 L174.96 425.97 L175.43 426.13 L175.90 426.15 L176.36 426.14 L176.83 426.15 L177.30 426.00 L177.77 425.99 L178.24 425.96 L178.70 426.18 L179.17 425.94 L179.64 426.04 L180.11 426.08 L180.57 426.03 L181.04 426.05 L181.51 426.14 L181.98 426.07 L182.44 425.98 L182.91 425.95 L183.38 425.88 L183.84 426.13 L184.31 425.89 L184.78 425.92 L185.25 425.95 L185.72 425.86 L186.18 426.15 L186.65 425.93 L187.12 425.88 L187.59 426.15 L188.05 425.99 L188.52 425.86 L188.99 426.09 L189.46 425.90 L189.92 425.88 L190.39 426.04 L190.86 426.14 L191.32 426.12 L191.79 425.90 L192.26 426.05 L192.73 426.08 L193.20 426.04 L193.66 425.87 L194.13 426.10 L194.60 426.19 L195.06 425.86 L195.53 426.08 L196.00 426.06 L196.47 425.85 L196.94 426.09 L197.40 426.16 L197.87 425.88 L198.34 426.11 L198.80 426.11 L199.27 425.86 L199.74 426.11 L200.21 425.88 L200.68 426.07 L201.14 426.09 L201.61 426.12 L202.08 426.00 L202.54 425.99 L203.01 426.05 L203.48 426.01 L203.95 426.09 L204.42 425.90 L204.88 425.86 L205.35 425.93 L205.82 425.90 L206.28 426.17 L206.75 426.10 L207.22 426.12 L207.69 426.14 L208.16 425.85 L208.62 425.87 L209.09 425.87 L209.56 426.00 L210.02 426.15 L210.49 426.04 L210.96 426.17 L211.43 425.87 L211.90 426.10 L212.36 426.09 L212.83 425.86 L213.30 426.12 L213.76 425.87 L214.23 426.08 L214.70 425.96 L215.17 426.15 L215.64 425.88 L216.10 426.05 L216.57 426.07 L217.04 425.96 L217.50 425.98 L217.97 426.10 L218.44 426.15 L218.91 425.99 L219.38 426.18 L219.84 425.88 L220.31 426.07 L220.78 426.13 L221.24 426.08 L221.71 426.15 L222.18 426.08 L222.65 426.00 L223.12 426.05 L223.58 426.07 L224.05 426.09 L224.52 426.02 L224.98 425.92 L225.45 426.04 L225.92 425.92 L226.39 426.02 L226.86 426.15 L227.32 426.13 L227.79 425.89 L228.26 426.02 L228.72 426.06 L229.19 426.01 L229.66 425.89 L230.13 426.06 L230.60 426.06 L231.06 426.06 L231.53 426.19 L232.00 426.00 L232.46 426.02 L232.93 426.02 L233.40 426.03" fill="none" stroke="#ff2a2a" stroke-width="1.55" stroke-linejoin="round"/>
<rect x="46.4" y="407.4" width="187.0" height="43.8" fill="none" stroke="#969696" stroke-width="1"/>
<text class="ss" x="36.8" y="410.4" font-size="6.42" fill="#222" text-anchor="end" textLength="8.5" lengthAdjust="spacing" stroke="#222" stroke-width="0.24">10</text>
<text class="ss" x="36.8" y="421.4" font-size="6.42" fill="#222" text-anchor="end" textLength="4.2" lengthAdjust="spacing" stroke="#222" stroke-width="0.24">5</text>
<text class="ss" x="36.8" y="432.3" font-size="6.42" fill="#222" text-anchor="end" textLength="4.2" lengthAdjust="spacing" stroke="#222" stroke-width="0.24">0</text>
<text class="ss" x="36.8" y="443.3" font-size="6.42" fill="#222" text-anchor="end" textLength="6.0" lengthAdjust="spacing" stroke="#222" stroke-width="0.24">-5</text>
<text class="ss" x="36.8" y="454.2" font-size="6.42" fill="#222" text-anchor="end" textLength="11.1" lengthAdjust="spacing" stroke="#222" stroke-width="0.24">-10</text>
<text class="ss" x="46.6" y="401.5" font-size="6.8" fill="#ff2a2a" textLength="6.3" lengthAdjust="spacing" stroke="#ff2a2a" stroke-width="0.24">Ib</text>
<text class="sf" x="7.0" y="433.7" font-size="8.75" fill="#222" textLength="12.5" lengthAdjust="spacingAndGlyphs" stroke="#222" stroke-width="0.096">(A)</text>
<text class="ss" x="46.4" y="462.6" font-size="6.42" fill="#222" text-anchor="middle" textLength="10.7" lengthAdjust="spacing" stroke="#222" stroke-width="0.24">2.4</text>
<text class="ss" x="93.2" y="462.6" font-size="6.42" fill="#222" text-anchor="middle" textLength="14.9" lengthAdjust="spacing" stroke="#222" stroke-width="0.24">2.45</text>
<text class="ss" x="139.9" y="462.6" font-size="6.42" fill="#222" text-anchor="middle" textLength="10.7" lengthAdjust="spacing" stroke="#222" stroke-width="0.24">2.5</text>
<text class="ss" x="186.7" y="462.6" font-size="6.42" fill="#222" text-anchor="middle" textLength="14.9" lengthAdjust="spacing" stroke="#222" stroke-width="0.24">2.55</text>
<text class="ss" x="233.4" y="462.6" font-size="6.42" fill="#222" text-anchor="middle" textLength="10.7" lengthAdjust="spacing" stroke="#222" stroke-width="0.24">2.6</text>
<text class="ss" x="139.9" y="471.0" font-size="6.42" fill="#222" text-anchor="middle" textLength="29" lengthAdjust="spacing" stroke="#222" stroke-width="0.24">Time (s)</text>
<text class="sf" x="123.0" y="492.3" font-size="9.6" fill="#111" text-anchor="middle" textLength="11" lengthAdjust="spacingAndGlyphs">(<tspan font-weight="bold">c</tspan>)</text>
<rect x="350.0" y="269.1" width="186.6" height="48.3" fill="#fff" stroke="none"/>
<line x1="350.0" x2="536.6" y1="281.18" y2="281.18" stroke="#b0b0b0" stroke-width="0.6"/>
<line x1="350.0" x2="536.6" y1="293.25" y2="293.25" stroke="#b0b0b0" stroke-width="0.6"/>
<line x1="350.0" x2="536.6" y1="305.32" y2="305.32" stroke="#b0b0b0" stroke-width="0.6"/>
<line x1="396.6" x2="396.6" y1="269.1" y2="317.4" stroke="#949494" stroke-width="0.6"/>
<line x1="443.3" x2="443.3" y1="269.1" y2="317.4" stroke="#949494" stroke-width="0.6"/>
<line x1="490.0" x2="490.0" y1="269.1" y2="317.4" stroke="#949494" stroke-width="0.6"/>
<path d="M350.00 288.52 L536.60 288.52" fill="none" stroke="#5656ff" stroke-width="1.0" stroke-linejoin="round"/>
<path d="M453.56 288.42 L460.09 288.42" fill="none" stroke="#ff2a2a" stroke-width="0.8" stroke-opacity="0.8" stroke-linejoin="round"/>
<rect x="350.0" y="269.1" width="186.6" height="48.3" fill="none" stroke="#969696" stroke-width="1"/>
<text class="ss" x="340.2" y="271.9" font-size="6.42" fill="#222" text-anchor="end" textLength="4.2" lengthAdjust="spacing" stroke="#222" stroke-width="0.24">4</text>
<text class="ss" x="340.2" y="283.9" font-size="6.42" fill="#222" text-anchor="end" textLength="4.2" lengthAdjust="spacing" stroke="#222" stroke-width="0.24">3</text>
<text class="ss" x="340.2" y="296.0" font-size="6.42" fill="#222" text-anchor="end" textLength="4.2" lengthAdjust="spacing" stroke="#222" stroke-width="0.24">2</text>
<text class="ss" x="340.2" y="308.1" font-size="6.42" fill="#222" text-anchor="end" textLength="4.2" lengthAdjust="spacing" stroke="#222" stroke-width="0.24">1</text>
<text class="ss" x="340.2" y="320.1" font-size="6.42" fill="#222" text-anchor="end" textLength="4.2" lengthAdjust="spacing" stroke="#222" stroke-width="0.24">0</text>
<text class="ss" x="350.2" y="263.2" font-size="6.8" fill="#ff2a2a" textLength="21.6" lengthAdjust="spacing" stroke="#ff2a2a" stroke-width="0.24">sVbus</text>
<text class="ss" x="393.4" y="263.2" font-size="6.8" fill="#2b2bff" textLength="31" lengthAdjust="spacing" stroke="#2b2bff" stroke-width="0.24">sVbus_c</text>
<text class="sf" x="311.0" y="296.4" font-size="8.75" fill="#222" textLength="12.5" lengthAdjust="spacingAndGlyphs" stroke="#222" stroke-width="0.096">(V)</text>
<text class="sf" x="360.9" y="278.0" font-size="8.85" fill="#111" textLength="22.0" lengthAdjust="spacingAndGlyphs" stroke="#111" stroke-width="0.096">sVbus</text>
<text class="sf" x="356.8" y="303.5" font-size="8.85" fill="#111" textLength="30.5" lengthAdjust="spacingAndGlyphs" stroke="#111" stroke-width="0.096">sVbus_c</text>
<line x1="372.1" y1="279.8" x2="372.1" y2="283.8" stroke="#111" stroke-width="1.45"/>
<polygon points="372.1,287.6 369.8,283.8 374.5,283.8" fill="#111"/>
<line x1="372.1" y1="297.5" x2="372.1" y2="293.3" stroke="#111" stroke-width="1.45"/>
<polygon points="372.1,289.5 374.5,293.3 369.8,293.3" fill="#111"/>
<rect x="350.0" y="337.8" width="186.6" height="48.4" fill="#fff" stroke="none"/>
<line x1="350.0" x2="536.6" y1="349.90" y2="349.90" stroke="#b0b0b0" stroke-width="0.6"/>
<line x1="350.0" x2="536.6" y1="362.00" y2="362.00" stroke="#b0b0b0" stroke-width="0.6"/>
<line x1="350.0" x2="536.6" y1="374.10" y2="374.10" stroke="#b0b0b0" stroke-width="0.6"/>
<line x1="396.6" x2="396.6" y1="337.8" y2="386.2" stroke="#949494" stroke-width="0.6"/>
<line x1="443.3" x2="443.3" y1="337.8" y2="386.2" stroke="#949494" stroke-width="0.6"/>
<line x1="490.0" x2="490.0" y1="337.8" y2="386.2" stroke="#949494" stroke-width="0.6"/>
<path d="M350.00 362.18 L350.39 362.18 L350.78 362.18 L351.17 362.18 L351.55 362.18 L351.94 362.18 L352.33 362.18 L352.72 362.18 L353.11 362.18 L353.50 362.18 L353.89 362.18 L354.28 362.18 L354.66 362.18 L355.05 362.18 L355.44 362.18 L355.83 362.18 L356.22 362.18 L356.61 362.18 L357.00 362.18 L357.39 362.18 L357.77 362.18 L358.16 362.18 L358.55 362.18 L358.94 362.18 L359.33 362.18 L359.72 362.18 L360.11 362.18 L360.50 362.18 L360.89 362.18 L361.27 362.18 L361.66 362.18 L362.05 362.18 L362.44 362.18 L362.83 362.18 L363.22 362.18 L363.61 362.18 L364.00 362.18 L364.38 362.18 L364.77 362.18 L365.16 362.18 L365.55 362.18 L365.94 362.18 L366.33 362.18 L366.72 362.18 L367.11 362.18 L367.49 362.18 L367.88 362.18 L368.27 362.18 L368.66 362.18 L369.05 362.18 L369.44 362.18 L369.83 362.18 L370.21 362.18 L370.60 362.18 L370.99 362.18 L371.38 362.18 L371.77 362.18 L372.16 362.18 L372.55 362.18 L372.94 362.18 L373.32 362.18 L373.71 362.18 L374.10 362.18 L374.49 362.18 L374.88 362.18 L375.27 362.18 L375.66 362.18 L376.05 362.18 L376.44 362.18 L376.82 362.18 L377.21 362.18 L377.60 362.18 L377.99 362.18 L378.38 362.18 L378.77 362.18 L379.16 362.18 L379.55 362.18 L379.93 362.18 L380.32 362.18 L380.71 362.18 L381.10 362.18 L381.49 362.18 L381.88 362.18 L382.27 362.18 L382.66 362.18 L383.04 362.18 L383.43 362.18 L383.82 362.18 L384.21 362.18 L384.60 362.18 L384.99 362.18 L385.38 362.18 L385.77 362.18 L386.15 362.18 L386.54 362.18 L386.93 362.18 L387.32 362.18 L387.71 362.18 L388.10 362.18 L388.49 362.18 L388.87 362.18 L389.26 362.18 L389.65 362.18 L390.04 362.18 L390.43 362.18 L390.82 362.18 L391.21 362.18 L391.60 362.18 L391.98 362.18 L392.37 362.18 L392.76 362.18 L393.15 362.18 L393.54 362.18 L393.93 362.18 L394.32 362.18 L394.71 362.18 L395.10 362.18 L395.48 362.18 L395.87 362.18 L396.26 362.18 L396.65 362.18 L397.04 362.18 L397.43 362.18 L397.82 362.18 L398.21 362.18 L398.59 362.18 L398.98 362.18 L399.37 362.18 L399.76 362.18 L400.15 362.18 L400.54 362.18 L400.93 362.18 L401.32 362.18 L401.70 362.18 L402.09 362.18 L402.48 362.18 L402.87 362.18 L403.26 362.18 L403.65 362.18 L404.04 362.18 L404.42 362.18 L404.81 362.18 L405.20 362.18 L405.59 362.18 L405.98 362.18 L406.37 362.18 L406.76 362.18 L407.15 362.18 L407.53 362.18 L407.92 362.18 L408.31 362.18 L408.70 362.18 L409.09 362.18 L409.48 362.18 L409.87 362.18 L410.26 362.18 L410.64 362.18 L411.03 362.18 L411.42 362.18 L411.81 362.18 L412.20 362.18 L412.59 362.18 L412.98 362.18 L413.37 362.18 L413.76 362.18 L414.14 362.18 L414.53 362.18 L414.92 362.18 L415.31 362.18 L415.70 362.18 L416.09 362.18 L416.48 362.18 L416.87 362.18 L417.25 362.18 L417.64 362.18 L418.03 362.18 L418.42 362.18 L418.81 362.18 L419.20 362.18 L419.59 362.18 L419.98 362.18 L420.36 362.18 L420.75 362.18 L421.14 362.18 L421.53 362.18 L421.92 362.18 L422.31 362.18 L422.70 362.18 L423.08 362.18 L423.47 362.18 L423.86 362.18 L424.25 362.18 L424.64 362.18 L425.03 362.18 L425.42 362.18 L425.81 362.18 L426.19 362.18 L426.58 362.18 L426.97 362.18 L427.36 362.18 L427.75 362.18 L428.14 362.18 L428.53 362.18 L428.92 362.18 L429.30 362.18 L429.69 362.18 L430.08 362.18 L430.47 362.18 L430.86 362.18 L431.25 362.18 L431.64 362.18 L432.03 362.18 L432.42 362.18 L432.80 362.18 L433.19 362.18 L433.58 362.18 L433.97 362.18 L434.36 362.18 L434.75 362.18 L435.14 362.18 L435.53 362.18 L435.91 362.18 L436.30 362.18 L436.69 362.18 L437.08 362.18 L437.47 362.18 L437.86 362.18 L438.25 362.18 L438.64 362.18 L439.02 362.18 L439.41 362.18 L439.80 362.18 L440.19 362.18 L440.58 362.18 L440.97 362.18 L441.36 362.18 L441.74 362.18 L442.13 362.18 L442.52 362.18 L442.91 362.18 L443.30 362.18 L443.69 362.18 L444.08 362.18 L444.47 362.18 L444.85 362.18 L445.24 362.18 L445.63 362.18 L446.02 362.18 L446.41 362.18 L446.80 362.18 L447.19 362.18 L447.58 362.18 L447.96 362.18 L448.35 362.18 L448.74 362.18 L449.13 362.18 L449.52 362.18 L449.91 362.18 L450.30 362.18 L450.69 362.18 L451.08 362.18 L451.46 362.18 L451.85 362.18 L452.24 362.18 L452.63 362.18 L453.02 362.18 L453.41 362.18 L453.80 362.18 L454.19 362.18 L454.57 362.18 L454.96 362.18 L455.35 362.18 L455.74 362.18 L456.13 362.18 L456.52 362.18 L456.91 362.18 L457.30 362.18 L457.68 362.18 L458.07 362.18 L458.46 362.18 L458.85 362.18 L459.24 362.18 L459.63 362.18 L460.02 362.18 L460.40 362.18 L460.79 362.18 L461.18 362.18 L461.57 362.18 L461.96 362.18 L462.35 362.18 L462.74 362.18 L463.13 362.18 L463.51 362.18 L463.90 362.18 L464.29 362.18 L464.68 362.18 L465.07 362.18 L465.46 362.18 L465.85 362.18 L466.24 362.18 L466.62 362.18 L467.01 362.18 L467.40 362.18 L467.79 362.18 L468.18 362.18 L468.57 362.18 L468.96 362.18 L469.35 362.18 L469.74 362.18 L470.12 362.18 L470.51 362.18 L470.90 362.18 L471.29 362.18 L471.68 362.18 L472.07 362.18 L472.46 362.18 L472.85 362.18 L473.23 362.18 L473.62 362.18 L474.01 362.18 L474.40 362.18 L474.79 362.18 L475.18 362.18 L475.57 362.18 L475.95 362.18 L476.34 362.18 L476.73 362.18 L477.12 362.18 L477.51 362.18 L477.90 362.18 L478.29 362.18 L478.68 362.18 L479.06 362.18 L479.45 362.18 L479.84 362.18 L480.23 362.18 L480.62 362.18 L481.01 362.18 L481.40 362.18 L481.79 362.18 L482.17 362.18 L482.56 362.18 L482.95 362.18 L483.34 362.18 L483.73 362.18 L484.12 362.18 L484.51 362.18 L484.90 362.18 L485.29 362.18 L485.67 362.18 L486.06 362.18 L486.45 362.18 L486.84 362.18 L487.23 362.18 L487.62 362.18 L488.01 362.18 L488.40 362.18 L488.78 362.18 L489.17 362.18 L489.56 362.18 L489.95 362.18 L490.34 362.18 L490.73 362.18 L491.12 362.18 L491.51 362.18 L491.89 362.18 L492.28 362.18 L492.67 362.18 L493.06 362.18 L493.45 362.18 L493.84 362.18 L494.23 362.18 L494.61 362.18 L495.00 362.18 L495.39 362.18 L495.78 362.18 L496.17 362.18 L496.56 362.18 L496.95 362.18 L497.34 362.18 L497.72 362.18 L498.11 362.18 L498.50 362.18 L498.89 362.18 L499.28 362.18 L499.67 362.18 L500.06 362.18 L500.45 362.18 L500.83 362.18 L501.22 362.18 L501.61 362.18 L502.00 362.18 L502.39 362.18 L502.78 362.18 L503.17 362.18 L503.56 362.18 L503.95 362.18 L504.33 362.18 L504.72 362.18 L505.11 362.18 L505.50 362.18 L505.89 362.18 L506.28 362.18 L506.67 362.18 L507.06 362.18 L507.44 362.18 L507.83 362.18 L508.22 362.18 L508.61 362.18 L509.00 362.18 L509.39 362.18 L509.78 362.18 L510.17 362.18 L510.55 362.18 L510.94 362.18 L511.33 362.18 L511.72 362.18 L512.11 362.18 L512.50 362.18 L512.89 362.18 L513.27 362.18 L513.66 362.18 L514.05 362.18 L514.44 362.18 L514.83 362.18 L515.22 362.18 L515.61 362.18 L516.00 362.18 L516.38 362.18 L516.77 362.18 L517.16 362.18 L517.55 362.18 L517.94 362.18 L518.33 362.18 L518.72 362.18 L519.11 362.18 L519.50 362.18 L519.88 362.18 L520.27 362.18 L520.66 362.18 L521.05 362.18 L521.44 362.18 L521.83 362.18 L522.22 362.18 L522.61 362.18 L522.99 362.18 L523.38 362.18 L523.77 362.18 L524.16 362.18 L524.55 362.18 L524.94 362.18 L525.33 362.18 L525.72 362.18 L526.10 362.18 L526.49 362.18 L526.88 362.18 L527.27 362.18 L527.66 362.18 L528.05 362.18 L528.44 362.18 L528.83 362.18 L529.21 362.18 L529.60 362.18 L529.99 362.18 L530.38 362.18 L530.77 362.18 L531.16 362.18 L531.55 362.18 L531.93 362.18 L532.32 362.18 L532.71 362.18 L533.10 362.18 L533.49 362.18 L533.88 362.18 L534.27 362.18 L534.66 362.18 L535.04 362.18 L535.43 362.18 L535.82 362.18 L536.21 362.18 L536.60 362.18" fill="none" stroke="#ff2a2a" stroke-width="1.0" stroke-opacity="0.85" stroke-linejoin="round"/>
<path d="M350.00 361.49 L350.39 361.49 L350.78 361.51 L351.17 361.54 L351.55 361.58 L351.94 361.64 L352.33 361.70 L352.72 361.77 L353.11 361.84 L353.50 361.92 L353.89 362.00 L354.28 362.08 L354.66 362.16 L355.05 362.23 L355.44 362.30 L355.83 362.36 L356.22 362.42 L356.61 362.46 L357.00 362.49 L357.39 362.51 L357.77 362.51 L358.16 362.51 L358.55 362.49 L358.94 362.46 L359.33 362.42 L359.72 362.36 L360.11 362.30 L360.50 362.23 L360.89 362.16 L361.27 362.08 L361.66 362.00 L362.05 361.92 L362.44 361.84 L362.83 361.77 L363.22 361.70 L363.61 361.64 L364.00 361.58 L364.38 361.54 L364.77 361.51 L365.16 361.49 L365.55 361.49 L365.94 361.49 L366.33 361.51 L366.72 361.54 L367.11 361.58 L367.49 361.64 L367.88 361.70 L368.27 361.77 L368.66 361.84 L369.05 361.92 L369.44 362.00 L369.83 362.08 L370.21 362.16 L370.60 362.23 L370.99 362.30 L371.38 362.36 L371.77 362.42 L372.16 362.46 L372.55 362.49 L372.94 362.51 L373.32 362.51 L373.71 362.51 L374.10 362.49 L374.49 362.46 L374.88 362.42 L375.27 362.36 L375.66 362.30 L376.05 362.23 L376.44 362.16 L376.82 362.08 L377.21 362.00 L377.60 361.92 L377.99 361.84 L378.38 361.77 L378.77 361.70 L379.16 361.64 L379.55 361.58 L379.93 361.54 L380.32 361.51 L380.71 361.49 L381.10 361.49 L381.49 361.49 L381.88 361.51 L382.27 361.54 L382.66 361.58 L383.04 361.64 L383.43 361.70 L383.82 361.77 L384.21 361.84 L384.60 361.92 L384.99 362.00 L385.38 362.08 L385.77 362.16 L386.15 362.23 L386.54 362.30 L386.93 362.36 L387.32 362.42 L387.71 362.46 L388.10 362.49 L388.49 362.51 L388.87 362.51 L389.26 362.51 L389.65 362.49 L390.04 362.46 L390.43 362.42 L390.82 362.36 L391.21 362.30 L391.60 362.23 L391.98 362.16 L392.37 362.08 L392.76 362.00 L393.15 361.92 L393.54 361.84 L393.93 361.77 L394.32 361.70 L394.71 361.64 L395.10 361.58 L395.48 361.54 L395.87 361.51 L396.26 361.49 L396.65 361.49 L397.04 361.49 L397.43 361.51 L397.82 361.54 L398.21 361.58 L398.59 361.64 L398.98 361.70 L399.37 361.77 L399.76 361.84 L400.15 361.92 L400.54 362.00 L400.93 362.08 L401.32 362.16 L401.70 362.23 L402.09 362.30 L402.48 362.36 L402.87 362.42 L403.26 362.46 L403.65 362.49 L404.04 362.51 L404.42 362.51 L404.81 362.51 L405.20 362.49 L405.59 362.46 L405.98 362.42 L406.37 362.36 L406.76 362.30 L407.15 362.23 L407.53 362.16 L407.92 362.08 L408.31 362.00 L408.70 361.92 L409.09 361.84 L409.48 361.77 L409.87 361.70 L410.26 361.64 L410.64 361.58 L411.03 361.54 L411.42 361.51 L411.81 361.49 L412.20 361.49 L412.59 361.49 L412.98 361.51 L413.37 361.54 L413.76 361.58 L414.14 361.64 L414.53 361.70 L414.92 361.77 L415.31 361.84 L415.70 361.92 L416.09 362.00 L416.48 362.08 L416.87 362.16 L417.25 362.23 L417.64 362.30 L418.03 362.36 L418.42 362.42 L418.81 362.46 L419.20 362.49 L419.59 362.51 L419.98 362.51 L420.36 362.51 L420.75 362.49 L421.14 362.46 L421.53 362.42 L421.92 362.36 L422.31 362.30 L422.70 362.23 L423.08 362.16 L423.47 362.08 L423.86 362.00 L424.25 361.92 L424.64 361.84 L425.03 361.77 L425.42 361.70 L425.81 361.64 L426.19 361.58 L426.58 361.54 L426.97 361.51 L427.36 361.49 L427.75 361.49 L428.14 361.49 L428.53 361.51 L428.92 361.54 L429.30 361.58 L429.69 361.64 L430.08 361.70 L430.47 361.77 L430.86 361.84 L431.25 361.92 L431.64 362.00 L432.03 362.08 L432.42 362.16 L432.80 362.23 L433.19 362.30 L433.58 362.36 L433.97 362.42 L434.36 362.46 L434.75 362.49 L435.14 362.51 L435.53 362.51 L435.91 362.51 L436.30 362.49 L436.69 362.46 L437.08 362.42 L437.47 362.36 L437.86 362.30 L438.25 362.23 L438.64 362.16 L439.02 362.08 L439.41 362.00 L439.80 361.92 L440.19 361.84 L440.58 361.77 L440.97 361.70 L441.36 361.64 L441.74 361.58 L442.13 361.54 L442.52 361.51 L442.91 361.49 L443.30 361.49 L443.69 361.49 L444.08 361.51 L444.47 361.54 L444.85 361.58 L445.24 361.64 L445.63 361.70 L446.02 361.77 L446.41 361.84 L446.80 361.92 L447.19 362.00 L447.58 362.08 L447.96 362.16 L448.35 362.23 L448.74 362.30 L449.13 362.36 L449.52 362.42 L449.91 362.46 L450.30 362.49 L450.69 362.51 L451.08 362.51 L451.46 362.51 L451.85 362.49 L452.24 362.46 L452.63 362.42 L453.02 362.36 L453.41 362.30 L453.80 362.23 L454.19 362.16 L454.57 362.08 L454.96 362.00 L455.35 361.92 L455.74 361.84 L456.13 361.77 L456.52 361.70 L456.91 361.64 L457.30 361.58 L457.68 361.54 L458.07 361.51 L458.46 361.49 L458.85 361.49 L459.24 361.49 L459.63 361.51 L460.02 361.54 L460.40 361.58 L460.79 361.64 L461.18 361.70 L461.57 361.77 L461.96 361.84 L462.35 361.92 L462.74 362.00 L463.13 362.08 L463.51 362.16 L463.90 362.23 L464.29 362.30 L464.68 362.36 L465.07 362.42 L465.46 362.46 L465.85 362.49 L466.24 362.51 L466.62 362.51 L467.01 362.51 L467.40 362.49 L467.79 362.46 L468.18 362.42 L468.57 362.36 L468.96 362.30 L469.35 362.23 L469.74 362.16 L470.12 362.08 L470.51 362.00 L470.90 361.92 L471.29 361.84 L471.68 361.77 L472.07 361.70 L472.46 361.64 L472.85 361.58 L473.23 361.54 L473.62 361.51 L474.01 361.49 L474.40 361.49 L474.79 361.49 L475.18 361.51 L475.57 361.54 L475.95 361.58 L476.34 361.64 L476.73 361.70 L477.12 361.77 L477.51 361.84 L477.90 361.92 L478.29 362.00 L478.68 362.08 L479.06 362.16 L479.45 362.23 L479.84 362.30 L480.23 362.36 L480.62 362.42 L481.01 362.46 L481.40 362.49 L481.79 362.51 L482.17 362.51 L482.56 362.51 L482.95 362.49 L483.34 362.46 L483.73 362.42 L484.12 362.36 L484.51 362.30 L484.90 362.23 L485.29 362.16 L485.67 362.08 L486.06 362.00 L486.45 361.92 L486.84 361.84 L487.23 361.77 L487.62 361.70 L488.01 361.64 L488.40 361.58 L488.78 361.54 L489.17 361.51 L489.56 361.49 L489.95 361.49 L490.34 361.49 L490.73 361.51 L491.12 361.54 L491.51 361.58 L491.89 361.64 L492.28 361.70 L492.67 361.77 L493.06 361.84 L493.45 361.92 L493.84 362.00 L494.23 362.08 L494.61 362.16 L495.00 362.23 L495.39 362.30 L495.78 362.36 L496.17 362.42 L496.56 362.46 L496.95 362.49 L497.34 362.51 L497.72 362.51 L498.11 362.51 L498.50 362.49 L498.89 362.46 L499.28 362.42 L499.67 362.36 L500.06 362.30 L500.45 362.23 L500.83 362.16 L501.22 362.08 L501.61 362.00 L502.00 361.92 L502.39 361.84 L502.78 361.77 L503.17 361.70 L503.56 361.64 L503.95 361.58 L504.33 361.54 L504.72 361.51 L505.11 361.49 L505.50 361.49 L505.89 361.49 L506.28 361.51 L506.67 361.54 L507.06 361.58 L507.44 361.64 L507.83 361.70 L508.22 361.77 L508.61 361.84 L509.00 361.92 L509.39 362.00 L509.78 362.08 L510.17 362.16 L510.55 362.23 L510.94 362.30 L511.33 362.36 L511.72 362.42 L512.11 362.46 L512.50 362.49 L512.89 362.51 L513.27 362.51 L513.66 362.51 L514.05 362.49 L514.44 362.46 L514.83 362.42 L515.22 362.36 L515.61 362.30 L516.00 362.23 L516.38 362.16 L516.77 362.08 L517.16 362.00 L517.55 361.92 L517.94 361.84 L518.33 361.77 L518.72 361.70 L519.11 361.64 L519.50 361.58 L519.88 361.54 L520.27 361.51 L520.66 361.49 L521.05 361.49 L521.44 361.49 L521.83 361.51 L522.22 361.54 L522.61 361.58 L522.99 361.64 L523.38 361.70 L523.77 361.77 L524.16 361.84 L524.55 361.92 L524.94 362.00 L525.33 362.08 L525.72 362.16 L526.10 362.23 L526.49 362.30 L526.88 362.36 L527.27 362.42 L527.66 362.46 L528.05 362.49 L528.44 362.51 L528.83 362.51 L529.21 362.51 L529.60 362.49 L529.99 362.46 L530.38 362.42 L530.77 362.36 L531.16 362.30 L531.55 362.23 L531.93 362.16 L532.32 362.08 L532.71 362.00 L533.10 361.92 L533.49 361.84 L533.88 361.77 L534.27 361.70 L534.66 361.64 L535.04 361.58 L535.43 361.54 L535.82 361.51 L536.21 361.49 L536.60 361.49" fill="none" stroke="#4848ff" stroke-width="1.0" stroke-opacity="0.95" stroke-linejoin="round"/>
<rect x="350.0" y="337.8" width="186.6" height="48.4" fill="none" stroke="#969696" stroke-width="1"/>
<text class="ss" x="340.2" y="340.2" font-size="6.42" fill="#222" text-anchor="end" textLength="4.2" lengthAdjust="spacing" stroke="#222" stroke-width="0.24">4</text>
<text class="ss" x="340.2" y="352.3" font-size="6.42" fill="#222" text-anchor="end" textLength="4.2" lengthAdjust="spacing" stroke="#222" stroke-width="0.24">2</text>
<text class="ss" x="340.2" y="364.4" font-size="6.42" fill="#222" text-anchor="end" textLength="4.2" lengthAdjust="spacing" stroke="#222" stroke-width="0.24">0</text>
<text class="ss" x="340.2" y="376.6" font-size="6.42" fill="#222" text-anchor="end" textLength="6.0" lengthAdjust="spacing" stroke="#222" stroke-width="0.24">-2</text>
<text class="ss" x="340.2" y="388.6" font-size="6.42" fill="#222" text-anchor="end" textLength="6.0" lengthAdjust="spacing" stroke="#222" stroke-width="0.24">-4</text>
<text class="ss" x="350.2" y="331.9" font-size="6.8" fill="#ff2a2a" textLength="10.3" lengthAdjust="spacing" stroke="#ff2a2a" stroke-width="0.24">sIL</text>
<text class="ss" x="382.7" y="331.9" font-size="6.8" fill="#2b2bff" textLength="19.5" lengthAdjust="spacing" stroke="#2b2bff" stroke-width="0.24">sIL_c</text>
<text class="sf" x="311.0" y="362.1" font-size="8.75" fill="#222" textLength="12.5" lengthAdjust="spacingAndGlyphs" stroke="#222" stroke-width="0.096">(A)</text>
<rect x="357.5" y="348.7" width="22.1" height="2.4" fill="#fff"/>
<rect x="353.3" y="372.9" width="30.4" height="2.4" fill="#fff"/>
<text class="sf" x="363.0" y="352.8" font-size="8.85" fill="#111" textLength="11.1" lengthAdjust="spacingAndGlyphs" stroke="#111" stroke-width="0.096">sIL</text>
<text class="sf" x="358.8" y="377.0" font-size="8.85" fill="#111" textLength="19.4" lengthAdjust="spacingAndGlyphs" stroke="#111" stroke-width="0.096">sIL_c</text>
<line x1="368.5" y1="354.2" x2="368.5" y2="357.2" stroke="#111" stroke-width="1.45"/>
<polygon points="368.5,361.0 366.1,357.2 370.9,357.2" fill="#111"/>
<line x1="368.5" y1="370.4" x2="368.5" y2="367.2" stroke="#111" stroke-width="1.45"/>
<polygon points="368.5,363.4 370.9,367.2 366.1,367.2" fill="#111"/>
<rect x="350.0" y="407.0" width="186.6" height="44.1" fill="#fff" stroke="none"/>
<line x1="350.0" x2="536.6" y1="418.02" y2="418.02" stroke="#b0b0b0" stroke-width="0.6"/>
<line x1="350.0" x2="536.6" y1="429.05" y2="429.05" stroke="#b0b0b0" stroke-width="0.6"/>
<line x1="350.0" x2="536.6" y1="440.08" y2="440.08" stroke="#b0b0b0" stroke-width="0.6"/>
<line x1="396.6" x2="396.6" y1="407.0" y2="451.1" stroke="#949494" stroke-width="0.6"/>
<line x1="443.3" x2="443.3" y1="407.0" y2="451.1" stroke="#949494" stroke-width="0.6"/>
<line x1="490.0" x2="490.0" y1="407.0" y2="451.1" stroke="#949494" stroke-width="0.6"/>
<path d="M350.00 429.05 L350.62 429.05 L351.24 429.05 L351.87 429.05 L352.49 429.05 L353.11 429.05 L353.73 429.05 L354.35 429.05 L354.98 429.05 L355.60 429.05 L356.22 429.05 L356.84 429.05 L357.46 429.05 L358.09 429.05 L358.71 429.05 L359.33 429.05 L359.95 429.05 L360.57 429.05 L361.20 429.05 L361.82 429.05 L362.44 429.05 L363.06 429.05 L363.68 429.05 L364.31 429.05 L364.93 429.05 L365.55 429.05 L366.17 429.05 L366.79 429.05 L367.42 429.05 L368.04 429.05 L368.66 429.05 L369.28 429.05 L369.90 429.05 L370.53 429.05 L371.15 429.05 L371.77 429.05 L372.39 429.05 L373.01 429.05 L373.64 429.05 L374.26 429.05 L374.88 429.05 L375.50 429.05 L376.12 429.05 L376.75 429.05 L377.37 429.05 L377.99 429.05 L378.61 429.05 L379.23 429.05 L379.86 429.05 L380.48 429.05 L381.10 429.05 L381.72 429.05 L382.34 429.05 L382.97 429.05 L383.59 429.05 L384.21 429.05 L384.83 429.05 L385.45 429.05 L386.08 429.05 L386.70 429.05 L387.32 429.05 L387.94 429.05 L388.56 429.05 L389.19 429.05 L389.81 429.05 L390.43 429.05 L391.05 429.05 L391.67 429.05 L392.30 429.05 L392.92 429.05 L393.54 429.05 L394.16 429.05 L394.78 429.05 L395.41 429.05 L396.03 429.05 L396.65 429.05 L397.27 429.05 L397.89 429.05 L398.52 429.05 L399.14 429.05 L399.76 429.05 L400.38 429.05 L401.00 429.05 L401.63 429.05 L402.25 429.05 L402.87 429.05 L403.49 429.05 L404.11 429.05 L404.74 429.05 L405.36 429.05 L405.98 429.05 L406.60 429.05 L407.22 429.05 L407.85 429.05 L408.47 429.05 L409.09 429.05 L409.71 429.05 L410.33 429.05 L410.96 429.05 L411.58 429.05 L412.20 429.05 L412.82 429.05 L413.44 429.05 L414.07 429.05 L414.69 429.05 L415.31 429.05 L415.93 429.05 L416.55 429.05 L417.18 429.05 L417.80 429.05 L418.42 429.05 L419.04 429.05 L419.66 429.05 L420.29 429.05 L420.91 429.05 L421.53 429.05 L422.15 429.05 L422.77 429.05 L423.40 429.05 L424.02 429.05 L424.64 429.05 L425.26 429.05 L425.88 429.05 L426.51 429.05 L427.13 429.05 L427.75 429.05 L428.37 429.05 L428.99 429.05 L429.62 429.05 L430.24 429.05 L430.86 429.05 L431.48 429.05 L432.10 429.05 L432.73 429.05 L433.35 429.05 L433.97 429.05 L434.59 429.05 L435.21 429.05 L435.84 429.05 L436.46 429.05 L437.08 429.05 L437.70 429.05 L438.32 429.05 L438.95 429.05 L439.57 429.05 L440.19 429.05 L440.81 429.05 L441.43 429.05 L442.06 429.05 L442.68 429.05 L443.30 429.05 L443.92 429.31 L444.54 429.53 L445.17 429.74 L445.79 429.92 L446.41 430.08 L447.03 430.23 L447.65 430.36 L448.28 430.48 L448.90 430.58 L449.52 430.68 L450.14 430.76 L450.76 430.84 L451.39 430.90 L452.01 430.96 L452.63 431.02 L453.25 431.07 L453.87 431.11 L454.50 431.15 L455.12 431.18 L455.74 431.21 L456.36 431.24 L456.98 431.27 L457.61 431.29 L458.23 431.31 L458.85 431.32 L459.47 431.34 L460.09 431.35 L460.72 431.37 L461.34 431.38 L461.96 431.39 L462.58 431.40 L463.20 431.41 L463.83 431.41 L464.45 431.42 L465.07 431.43 L465.69 431.43 L466.31 431.44 L466.94 431.44 L467.56 431.44 L468.18 431.45 L468.80 431.45 L469.42 431.45 L470.05 431.46 L470.67 431.46 L471.29 431.46 L471.91 431.46 L472.53 431.46 L473.16 431.46 L473.78 431.47 L474.40 431.47 L475.02 431.47 L475.64 431.47 L476.27 431.47 L476.89 431.47 L477.51 431.47 L478.13 431.47 L478.75 431.47 L479.38 431.47 L480.00 431.47 L480.62 431.47 L481.24 431.47 L481.86 431.47 L482.49 431.47 L483.11 431.47 L483.73 431.47 L484.35 431.47 L484.97 431.47 L485.60 431.47 L486.22 431.47 L486.84 431.47 L487.46 431.47 L488.08 431.47 L488.71 431.47 L489.33 431.47 L489.95 431.47 L490.57 431.47 L491.19 431.48 L491.82 431.48 L492.44 431.48 L493.06 431.48 L493.68 431.48 L494.30 431.48 L494.93 431.48 L495.55 431.48 L496.17 431.48 L496.79 431.48 L497.41 431.48 L498.04 431.48 L498.66 431.48 L499.28 431.48 L499.90 431.48 L500.52 431.48 L501.15 431.48 L501.77 431.48 L502.39 431.48 L503.01 431.48 L503.63 431.48 L504.26 431.48 L504.88 431.48 L505.50 431.48 L506.12 431.48 L506.74 431.48 L507.37 431.48 L507.99 431.48 L508.61 431.48 L509.23 431.48 L509.85 431.48 L510.48 431.48 L511.10 431.48 L511.72 431.48 L512.34 431.48 L512.96 431.48 L513.59 431.48 L514.21 431.48 L514.83 431.48 L515.45 431.48 L516.07 431.48 L516.70 431.48 L517.32 431.48 L517.94 431.48 L518.56 431.48 L519.18 431.48 L519.81 431.48 L520.43 431.48 L521.05 431.48 L521.67 431.48 L522.29 431.48 L522.92 431.48 L523.54 431.48 L524.16 431.48 L524.78 431.48 L525.40 431.48 L526.03 431.48 L526.65 431.48 L527.27 431.48 L527.89 431.48 L528.51 431.48 L529.14 431.48 L529.76 431.48 L530.38 431.48 L531.00 431.48 L531.62 431.48 L532.25 431.48 L532.87 431.48 L533.49 431.48 L534.11 431.48 L534.73 431.48 L535.36 431.48 L535.98 431.48 L536.60 431.48" fill="none" stroke="#e81e58" stroke-width="1.9" stroke-linejoin="round"/>
<path d="M350.00 429.20 L350.62 429.20 L351.24 429.20 L351.87 429.20 L352.49 429.20 L353.11 429.20 L353.73 429.20 L354.35 429.20 L354.98 429.20 L355.60 429.20 L356.22 429.20 L356.84 429.20 L357.46 429.20 L358.09 429.20 L358.71 429.20 L359.33 429.20 L359.95 429.20 L360.57 429.20 L361.20 429.20 L361.82 429.20 L362.44 429.20 L363.06 429.20 L363.68 429.20 L364.31 429.20 L364.93 429.20 L365.55 429.20 L366.17 429.20 L366.79 429.20 L367.42 429.20 L368.04 429.20 L368.66 429.20 L369.28 429.20 L369.90 429.20 L370.53 429.20 L371.15 429.20 L371.77 429.20 L372.39 429.20 L373.01 429.20 L373.64 429.20 L374.26 429.20 L374.88 429.20 L375.50 429.20 L376.12 429.20 L376.75 429.20 L377.37 429.20 L377.99 429.20 L378.61 429.20 L379.23 429.20 L379.86 429.20 L380.48 429.20 L381.10 429.20 L381.72 429.20 L382.34 429.20 L382.97 429.20 L383.59 429.20 L384.21 429.20 L384.83 429.20 L385.45 429.20 L386.08 429.20 L386.70 429.20 L387.32 429.20 L387.94 429.20 L388.56 429.20 L389.19 429.20 L389.81 429.20 L390.43 429.20 L391.05 429.20 L391.67 429.20 L392.30 429.20 L392.92 429.20 L393.54 429.20 L394.16 429.20 L394.78 429.20 L395.41 429.20 L396.03 429.20 L396.65 429.20 L397.27 429.20 L397.89 429.20 L398.52 429.20 L399.14 429.20 L399.76 429.20 L400.38 429.20 L401.00 429.20 L401.63 429.20 L402.25 429.20 L402.87 429.20 L403.49 429.20 L404.11 429.20 L404.74 429.20 L405.36 429.20 L405.98 429.20 L406.60 429.20 L407.22 429.20 L407.85 429.20 L408.47 429.20 L409.09 429.20 L409.71 429.20 L410.33 429.20 L410.96 429.20 L411.58 429.20 L412.20 429.20 L412.82 429.20 L413.44 429.20 L414.07 429.20 L414.69 429.20 L415.31 429.20 L415.93 429.20 L416.55 429.20 L417.18 429.20 L417.80 429.20 L418.42 429.20 L419.04 429.20 L419.66 429.20 L420.29 429.20 L420.91 429.20 L421.53 429.20 L422.15 429.20 L422.77 429.20 L423.40 429.20 L424.02 429.20 L424.64 429.20 L425.26 429.20 L425.88 429.20 L426.51 429.20 L427.13 429.20 L427.75 429.20 L428.37 429.20 L428.99 429.20 L429.62 429.20 L430.24 429.20 L430.86 429.20 L431.48 429.20 L432.10 429.20 L432.73 429.20 L433.35 429.20 L433.97 429.20 L434.59 429.20 L435.21 429.20 L435.84 429.20 L436.46 429.20 L437.08 429.20 L437.70 429.20 L438.32 429.20 L438.95 429.20 L439.57 429.20 L440.19 429.20 L440.81 429.20 L441.43 429.20 L442.06 429.20 L442.68 429.20 L443.30 429.20 L443.92 429.46 L444.54 429.68 L445.17 429.89 L445.79 430.07 L446.41 430.23 L447.03 430.38 L447.65 430.51 L448.28 430.63 L448.90 430.73 L449.52 430.83 L450.14 430.91 L450.76 430.99 L451.39 431.05 L452.01 431.11 L452.63 431.17 L453.25 431.22 L453.87 431.26 L454.50 431.30 L455.12 431.33 L455.74 431.36 L456.36 431.39 L456.98 431.42 L457.61 431.44 L458.23 431.46 L458.85 431.47 L459.47 431.49 L460.09 431.50 L460.72 431.52 L461.34 431.53 L461.96 431.54 L462.58 431.55 L463.20 431.56 L463.83 431.56 L464.45 431.57 L465.07 431.58 L465.69 431.58 L466.31 431.59 L466.94 431.59 L467.56 431.59 L468.18 431.60 L468.80 431.60 L469.42 431.60 L470.05 431.61 L470.67 431.61 L471.29 431.61 L471.91 431.61 L472.53 431.61 L473.16 431.61 L473.78 431.62 L474.40 431.62 L475.02 431.62 L475.64 431.62 L476.27 431.62 L476.89 431.62 L477.51 431.62 L478.13 431.62 L478.75 431.62 L479.38 431.62 L480.00 431.62 L480.62 431.62 L481.24 431.62 L481.86 431.62 L482.49 431.62 L483.11 431.62 L483.73 431.62 L484.35 431.62 L484.97 431.62 L485.60 431.62 L486.22 431.62 L486.84 431.62 L487.46 431.62 L488.08 431.62 L488.71 431.62 L489.33 431.62 L489.95 431.62 L490.57 431.62 L491.19 431.63 L491.82 431.63 L492.44 431.63 L493.06 431.63 L493.68 431.63 L494.30 431.63 L494.93 431.63 L495.55 431.63 L496.17 431.63 L496.79 431.63 L497.41 431.63 L498.04 431.63 L498.66 431.63 L499.28 431.63 L499.90 431.63 L500.52 431.63 L501.15 431.63 L501.77 431.63 L502.39 431.63 L503.01 431.63 L503.63 431.63 L504.26 431.63 L504.88 431.63 L505.50 431.63 L506.12 431.63 L506.74 431.63 L507.37 431.63 L507.99 431.63 L508.61 431.63 L509.23 431.63 L509.85 431.63 L510.48 431.63 L511.10 431.63 L511.72 431.63 L512.34 431.63 L512.96 431.63 L513.59 431.63 L514.21 431.63 L514.83 431.63 L515.45 431.63 L516.07 431.63 L516.70 431.63 L517.32 431.63 L517.94 431.63 L518.56 431.63 L519.18 431.63 L519.81 431.63 L520.43 431.63 L521.05 431.63 L521.67 431.63 L522.29 431.63 L522.92 431.63 L523.54 431.63 L524.16 431.63 L524.78 431.63 L525.40 431.63 L526.03 431.63 L526.65 431.63 L527.27 431.63 L527.89 431.63 L528.51 431.63 L529.14 431.63 L529.76 431.63 L530.38 431.63 L531.00 431.63 L531.62 431.63 L532.25 431.63 L532.87 431.63 L533.49 431.63 L534.11 431.63 L534.73 431.63 L535.36 431.63 L535.98 431.63 L536.60 431.63" fill="none" stroke="#4a08c8" stroke-width="1.15" stroke-opacity="0.8" stroke-linejoin="round"/>
<rect x="350.0" y="407.0" width="186.6" height="44.1" fill="none" stroke="#969696" stroke-width="1"/>
<text class="ss" x="340.1" y="409.5" font-size="6.42" fill="#222" text-anchor="end" textLength="4.2" lengthAdjust="spacing" stroke="#222" stroke-width="0.24">1</text>
<text class="ss" x="340.1" y="420.5" font-size="6.42" fill="#222" text-anchor="end" textLength="10.7" lengthAdjust="spacing" stroke="#222" stroke-width="0.24">0.5</text>
<text class="ss" x="340.1" y="431.6" font-size="6.42" fill="#222" text-anchor="end" textLength="4.2" lengthAdjust="spacing" stroke="#222" stroke-width="0.24">0</text>
<text class="ss" x="340.1" y="442.6" font-size="6.42" fill="#222" text-anchor="end" textLength="13.2" lengthAdjust="spacing" stroke="#222" stroke-width="0.24">-0.5</text>
<text class="ss" x="340.1" y="453.6" font-size="6.42" fill="#222" text-anchor="end" textLength="6.0" lengthAdjust="spacing" stroke="#222" stroke-width="0.24">-1</text>
<text class="ss" x="350.2" y="401.1" font-size="6.8" fill="#ff2a2a" textLength="10.3" lengthAdjust="spacing" stroke="#ff2a2a" stroke-width="0.24">sIb</text>
<text class="ss" x="382.7" y="401.1" font-size="6.8" fill="#2b2bff" textLength="19.5" lengthAdjust="spacing" stroke="#2b2bff" stroke-width="0.24">sIb_c</text>
<text class="sf" x="311.0" y="432.6" font-size="8.75" fill="#222" textLength="12.5" lengthAdjust="spacingAndGlyphs" stroke="#222" stroke-width="0.096">(A)</text>
<rect x="357.7" y="416.8" width="21.6" height="2.4" fill="#fff"/>
<rect x="353.6" y="438.9" width="29.7" height="2.4" fill="#fff"/>
<text class="sf" x="363.2" y="418.2" font-size="8.85" fill="#111" textLength="10.6" lengthAdjust="spacingAndGlyphs" stroke="#111" stroke-width="0.096">sIb</text>
<text class="sf" x="359.1" y="446.2" font-size="8.85" fill="#111" textLength="18.7" lengthAdjust="spacingAndGlyphs" stroke="#111" stroke-width="0.096">sIb_c</text>
<line x1="368.5" y1="419.8" x2="368.5" y2="424.1" stroke="#111" stroke-width="1.45"/>
<polygon points="368.5,427.9 366.1,424.1 370.9,424.1" fill="#111"/>
<line x1="368.5" y1="438.5" x2="368.5" y2="434.1" stroke="#111" stroke-width="1.45"/>
<polygon points="368.5,430.3 370.9,434.1 366.1,434.1" fill="#111"/>
<text class="ss" x="350.0" y="461.9" font-size="6.42" fill="#222" text-anchor="middle" textLength="10.7" lengthAdjust="spacing" stroke="#222" stroke-width="0.24">2.4</text>
<text class="ss" x="396.6" y="461.9" font-size="6.42" fill="#222" text-anchor="middle" textLength="14.9" lengthAdjust="spacing" stroke="#222" stroke-width="0.24">2.45</text>
<text class="ss" x="443.3" y="461.9" font-size="6.42" fill="#222" text-anchor="middle" textLength="10.7" lengthAdjust="spacing" stroke="#222" stroke-width="0.24">2.5</text>
<text class="ss" x="490.0" y="461.9" font-size="6.42" fill="#222" text-anchor="middle" textLength="14.9" lengthAdjust="spacing" stroke="#222" stroke-width="0.24">2.55</text>
<text class="ss" x="536.6" y="461.9" font-size="6.42" fill="#222" text-anchor="middle" textLength="10.7" lengthAdjust="spacing" stroke="#222" stroke-width="0.24">2.6</text>
<text class="ss" x="443.3" y="470.3" font-size="6.42" fill="#222" text-anchor="middle" textLength="29" lengthAdjust="spacing" stroke="#222" stroke-width="0.24">Time (s)</text>
<text class="sf" x="425.0" y="492.3" font-size="9.6" fill="#111" text-anchor="middle" textLength="12.8" lengthAdjust="spacingAndGlyphs">(<tspan font-weight="bold">d</tspan>)</text>
</svg>
</body></html>
